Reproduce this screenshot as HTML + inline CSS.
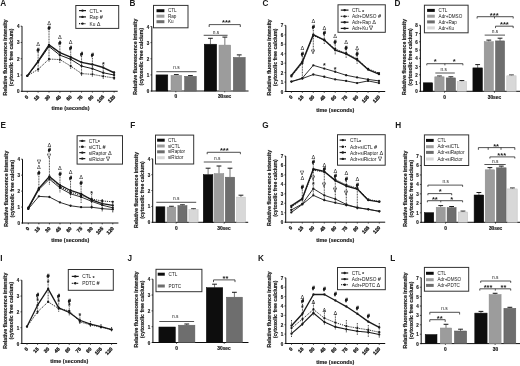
<!DOCTYPE html>
<html><head><meta charset="utf-8"><title>Figure</title>
<style>
html,body{margin:0;padding:0;background:#fff;}
svg{display:block;}
text{font-family:'Liberation Sans', Arial, sans-serif;}
</style></head><body>
<svg width="520" height="366" viewBox="0 0 520 366">
<defs><filter id="soft" x="0" y="0" width="100%" height="100%"><feGaussianBlur stdDeviation="0.45"/></filter></defs>
<rect width="520" height="366" fill="#fff"/>
<g filter="url(#soft)">
<text x="0.2" y="5.9" font-size="8.2" font-weight="bold" text-anchor="start" fill="#1a1a1a">A</text>
<text x="7.4" y="57.4" font-size="5.2" font-weight="bold" text-anchor="middle" fill="#1a1a1a" transform="rotate(-90 7.4 57.4)" stroke="#1a1a1a" stroke-width="0.18">Relative fluorescence intensity</text>
<text x="13.4" y="57.4" font-size="5.2" font-weight="bold" text-anchor="middle" fill="#1a1a1a" transform="rotate(-90 13.4 57.4)" stroke="#1a1a1a" stroke-width="0.18">(cytosolic free calcium)</text>
<line x1="22" y1="26.2" x2="22" y2="91.8" stroke="#111" stroke-width="1"/>
<line x1="20.7" y1="91.3" x2="22" y2="91.3" stroke="#1a1a1a" stroke-width="0.8"/>
<text x="18.2" y="93.3" font-size="4.5" font-weight="bold" text-anchor="middle" fill="#1a1a1a" stroke="#1a1a1a" stroke-width="0.15">0</text>
<line x1="20.7" y1="75.03" x2="22" y2="75.03" stroke="#1a1a1a" stroke-width="0.8"/>
<text x="18.2" y="77.03" font-size="4.5" font-weight="bold" text-anchor="middle" fill="#1a1a1a" stroke="#1a1a1a" stroke-width="0.15">1</text>
<line x1="20.7" y1="58.75" x2="22" y2="58.75" stroke="#1a1a1a" stroke-width="0.8"/>
<text x="18.2" y="60.75" font-size="4.5" font-weight="bold" text-anchor="middle" fill="#1a1a1a" stroke="#1a1a1a" stroke-width="0.15">2</text>
<line x1="20.7" y1="42.48" x2="22" y2="42.48" stroke="#1a1a1a" stroke-width="0.8"/>
<text x="18.2" y="44.48" font-size="4.5" font-weight="bold" text-anchor="middle" fill="#1a1a1a" stroke="#1a1a1a" stroke-width="0.15">3</text>
<line x1="20.7" y1="26.2" x2="22" y2="26.2" stroke="#1a1a1a" stroke-width="0.8"/>
<text x="18.2" y="28.2" font-size="4.5" font-weight="bold" text-anchor="middle" fill="#1a1a1a" stroke="#1a1a1a" stroke-width="0.15">4</text>
<line x1="21.5" y1="91.3" x2="117.7" y2="91.3" stroke="#111" stroke-width="1"/>
<line x1="27.3" y1="91.3" x2="27.3" y2="92.6" stroke="#1a1a1a" stroke-width="0.8"/>
<text x="28.8" y="97.2" font-size="4.9" font-weight="bold" text-anchor="end" fill="#1a1a1a" transform="rotate(-45 28.8 97.2)" stroke="#1a1a1a" stroke-width="0.3">0</text>
<line x1="38.15" y1="91.3" x2="38.15" y2="92.6" stroke="#1a1a1a" stroke-width="0.8"/>
<text x="39.65" y="97.2" font-size="4.9" font-weight="bold" text-anchor="end" fill="#1a1a1a" transform="rotate(-45 39.65 97.2)" stroke="#1a1a1a" stroke-width="0.3">15</text>
<line x1="49" y1="91.3" x2="49" y2="92.6" stroke="#1a1a1a" stroke-width="0.8"/>
<text x="50.5" y="97.2" font-size="4.9" font-weight="bold" text-anchor="end" fill="#1a1a1a" transform="rotate(-45 50.5 97.2)" stroke="#1a1a1a" stroke-width="0.3">30</text>
<line x1="59.85" y1="91.3" x2="59.85" y2="92.6" stroke="#1a1a1a" stroke-width="0.8"/>
<text x="61.35" y="97.2" font-size="4.9" font-weight="bold" text-anchor="end" fill="#1a1a1a" transform="rotate(-45 61.35 97.2)" stroke="#1a1a1a" stroke-width="0.3">45</text>
<line x1="70.7" y1="91.3" x2="70.7" y2="92.6" stroke="#1a1a1a" stroke-width="0.8"/>
<text x="72.2" y="97.2" font-size="4.9" font-weight="bold" text-anchor="end" fill="#1a1a1a" transform="rotate(-45 72.2 97.2)" stroke="#1a1a1a" stroke-width="0.3">60</text>
<line x1="81.55" y1="91.3" x2="81.55" y2="92.6" stroke="#1a1a1a" stroke-width="0.8"/>
<text x="83.05" y="97.2" font-size="4.9" font-weight="bold" text-anchor="end" fill="#1a1a1a" transform="rotate(-45 83.05 97.2)" stroke="#1a1a1a" stroke-width="0.3">75</text>
<line x1="92.4" y1="91.3" x2="92.4" y2="92.6" stroke="#1a1a1a" stroke-width="0.8"/>
<text x="93.9" y="97.2" font-size="4.9" font-weight="bold" text-anchor="end" fill="#1a1a1a" transform="rotate(-45 93.9 97.2)" stroke="#1a1a1a" stroke-width="0.3">90</text>
<line x1="103.25" y1="91.3" x2="103.25" y2="92.6" stroke="#1a1a1a" stroke-width="0.8"/>
<text x="104.75" y="97.2" font-size="4.9" font-weight="bold" text-anchor="end" fill="#1a1a1a" transform="rotate(-45 104.75 97.2)" stroke="#1a1a1a" stroke-width="0.3">105</text>
<line x1="114.1" y1="91.3" x2="114.1" y2="92.6" stroke="#1a1a1a" stroke-width="0.8"/>
<text x="115.6" y="97.2" font-size="4.9" font-weight="bold" text-anchor="end" fill="#1a1a1a" transform="rotate(-45 115.6 97.2)" stroke="#1a1a1a" stroke-width="0.3">120</text>
<text x="70.6" y="110.4" font-size="5.4" font-weight="bold" text-anchor="middle" fill="#1a1a1a" stroke="#1a1a1a" stroke-width="0.15">time (seconds)</text>
<rect x="75.8" y="5.5" width="42.9" height="22.9" fill="#fff" stroke="#333" stroke-width="1"/>
<line x1="79" y1="10.6" x2="86" y2="10.6" stroke="#1a1a1a" stroke-width="1.2"/>
<circle cx="82.5" cy="10.6" r="1.2" fill="#1a1a1a"/>
<text x="89.6" y="12.6" font-size="4.8" font-weight="normal" text-anchor="start" fill="#1a1a1a">CTL <tspan font-weight="bold" font-size="5.6" dy="1.4">*</tspan></text>
<line x1="79" y1="16.9" x2="86" y2="16.9" stroke="#1a1a1a" stroke-width="1.2"/>
<circle cx="82.5" cy="16.9" r="1.2" fill="#1a1a1a"/>
<text x="89.6" y="18.9" font-size="4.8" font-weight="normal" text-anchor="start" fill="#1a1a1a">Rap <tspan font-weight="bold" font-size="5.6">#</tspan></text>
<line x1="79" y1="23.6" x2="86" y2="23.6" stroke="#1a1a1a" stroke-width="1.2" stroke-dasharray="1,0.8"/>
<circle cx="82.5" cy="23.6" r="1.2" fill="#1a1a1a"/>
<text x="89.6" y="25.6" font-size="4.8" font-weight="normal" text-anchor="start" fill="#1a1a1a">Ku <tspan font-size="5.6">Δ</tspan></text>
<line x1="38.15" y1="52" x2="38.15" y2="72" stroke="#333" stroke-width="0.9" stroke-dasharray="1,0.6"/>
<line x1="49" y1="31" x2="49" y2="62" stroke="#333" stroke-width="0.9" stroke-dasharray="1,0.6"/>
<line x1="59.85" y1="46" x2="59.85" y2="63" stroke="#333" stroke-width="0.9" stroke-dasharray="1,0.6"/>
<line x1="70.7" y1="49" x2="70.7" y2="69" stroke="#333" stroke-width="0.9" stroke-dasharray="1,0.6"/>
<line x1="81.55" y1="56" x2="81.55" y2="76" stroke="#333" stroke-width="0.9" stroke-dasharray="1,0.6"/>
<line x1="92.4" y1="58" x2="92.4" y2="77" stroke="#333" stroke-width="0.9" stroke-dasharray="1,0.6"/>
<line x1="103.25" y1="65" x2="103.25" y2="79" stroke="#333" stroke-width="0.9" stroke-dasharray="1,0.6"/>
<line x1="114.1" y1="71" x2="114.1" y2="80" stroke="#333" stroke-width="0.9" stroke-dasharray="1,0.6"/>
<polyline points="27.3,75.84 38.15,61.19 49,44.92 59.85,52.57 70.7,57.12 81.55,62.33 92.4,64.45 103.25,67.54 114.1,72.75" fill="none" stroke="#1a1a1a" stroke-width="1.4" stroke-linejoin="round"/>
<circle cx="27.3" cy="75.84" r="1.15" fill="#1a1a1a"/>
<circle cx="38.15" cy="61.19" r="1.15" fill="#1a1a1a"/>
<circle cx="49" cy="44.92" r="1.15" fill="#1a1a1a"/>
<circle cx="59.85" cy="52.57" r="1.15" fill="#1a1a1a"/>
<circle cx="70.7" cy="57.12" r="1.15" fill="#1a1a1a"/>
<circle cx="81.55" cy="62.33" r="1.15" fill="#1a1a1a"/>
<circle cx="92.4" cy="64.45" r="1.15" fill="#1a1a1a"/>
<circle cx="103.25" cy="67.54" r="1.15" fill="#1a1a1a"/>
<circle cx="114.1" cy="72.75" r="1.15" fill="#1a1a1a"/>
<polyline points="27.3,75.84 38.15,62 49,46.54 59.85,55.17 70.7,59.24 81.55,66.07 92.4,68.68 103.25,72.75 114.1,75.03" fill="none" stroke="#1a1a1a" stroke-width="1" stroke-linejoin="round"/>
<circle cx="27.3" cy="75.84" r="1.15" fill="#1a1a1a"/>
<circle cx="38.15" cy="62" r="1.15" fill="#1a1a1a"/>
<circle cx="49" cy="46.54" r="1.15" fill="#1a1a1a"/>
<circle cx="59.85" cy="55.17" r="1.15" fill="#1a1a1a"/>
<circle cx="70.7" cy="59.24" r="1.15" fill="#1a1a1a"/>
<circle cx="81.55" cy="66.07" r="1.15" fill="#1a1a1a"/>
<circle cx="92.4" cy="68.68" r="1.15" fill="#1a1a1a"/>
<circle cx="103.25" cy="72.75" r="1.15" fill="#1a1a1a"/>
<circle cx="114.1" cy="75.03" r="1.15" fill="#1a1a1a"/>
<polyline points="27.3,75.84 38.15,69.33 49,59.08 59.85,59.56 70.7,66.07 81.55,73.56 92.4,74.37 103.25,76.33 114.1,77.95" fill="none" stroke="#1a1a1a" stroke-width="0.9" stroke-linejoin="round" stroke-dasharray="1.2,1"/>
<circle cx="27.3" cy="75.84" r="1.15" fill="#1a1a1a"/>
<circle cx="38.15" cy="69.33" r="1.15" fill="#1a1a1a"/>
<circle cx="49" cy="59.08" r="1.15" fill="#1a1a1a"/>
<circle cx="59.85" cy="59.56" r="1.15" fill="#1a1a1a"/>
<circle cx="70.7" cy="66.07" r="1.15" fill="#1a1a1a"/>
<circle cx="81.55" cy="73.56" r="1.15" fill="#1a1a1a"/>
<circle cx="92.4" cy="74.37" r="1.15" fill="#1a1a1a"/>
<circle cx="103.25" cy="76.33" r="1.15" fill="#1a1a1a"/>
<circle cx="114.1" cy="77.95" r="1.15" fill="#1a1a1a"/>
<text x="38.15" y="45.6" font-size="5.6" font-weight="normal" text-anchor="middle" fill="#1a1a1a">Δ</text>
<text x="38.15" y="51.5" font-size="4.8" font-weight="bold" text-anchor="middle" fill="#1a1a1a" stroke="#1a1a1a" stroke-width="0.35">#</text>
<text x="49" y="24.5" font-size="5.6" font-weight="normal" text-anchor="middle" fill="#1a1a1a">Δ</text>
<text x="49" y="30" font-size="4.8" font-weight="bold" text-anchor="middle" fill="#1a1a1a" stroke="#1a1a1a" stroke-width="0.35">#</text>
<text x="59.85" y="38.8" font-size="5.6" font-weight="normal" text-anchor="middle" fill="#1a1a1a">Δ</text>
<text x="59.85" y="45" font-size="4.8" font-weight="bold" text-anchor="middle" fill="#1a1a1a" stroke="#1a1a1a" stroke-width="0.35">#</text>
<text x="70.7" y="43.5" font-size="5.6" font-weight="normal" text-anchor="middle" fill="#1a1a1a">Δ</text>
<text x="70.7" y="49.5" font-size="4.8" font-weight="bold" text-anchor="middle" fill="#1a1a1a" stroke="#1a1a1a" stroke-width="0.35">#</text>
<text x="81.55" y="55.8" font-size="4.8" font-weight="bold" text-anchor="middle" fill="#1a1a1a" stroke="#1a1a1a" stroke-width="0.35">#</text>
<text x="92.4" y="57.3" font-size="4.8" font-weight="bold" text-anchor="middle" fill="#1a1a1a" stroke="#1a1a1a" stroke-width="0.35">#</text>
<text x="103.25" y="66.8" font-size="7" font-weight="bold" text-anchor="middle" fill="#1a1a1a">*</text>
<text x="262.4" y="5.9" font-size="8.2" font-weight="bold" text-anchor="start" fill="#1a1a1a">C</text>
<text x="271.2" y="57.35" font-size="5.2" font-weight="bold" text-anchor="middle" fill="#1a1a1a" transform="rotate(-90 271.2 57.35)" stroke="#1a1a1a" stroke-width="0.18">Relative fluorescence intensity</text>
<text x="277.2" y="57.35" font-size="5.2" font-weight="bold" text-anchor="middle" fill="#1a1a1a" transform="rotate(-90 277.2 57.35)" stroke="#1a1a1a" stroke-width="0.18">(cytosolic free calcium)</text>
<line x1="285.8" y1="25.4" x2="285.8" y2="92" stroke="#111" stroke-width="1"/>
<line x1="284.5" y1="91.5" x2="285.8" y2="91.5" stroke="#1a1a1a" stroke-width="0.8"/>
<text x="282" y="93.5" font-size="4.5" font-weight="bold" text-anchor="middle" fill="#1a1a1a" stroke="#1a1a1a" stroke-width="0.15">0</text>
<line x1="284.5" y1="82.06" x2="285.8" y2="82.06" stroke="#1a1a1a" stroke-width="0.8"/>
<text x="282" y="84.06" font-size="4.5" font-weight="bold" text-anchor="middle" fill="#1a1a1a" stroke="#1a1a1a" stroke-width="0.15">1</text>
<line x1="284.5" y1="72.61" x2="285.8" y2="72.61" stroke="#1a1a1a" stroke-width="0.8"/>
<text x="282" y="74.61" font-size="4.5" font-weight="bold" text-anchor="middle" fill="#1a1a1a" stroke="#1a1a1a" stroke-width="0.15">2</text>
<line x1="284.5" y1="63.17" x2="285.8" y2="63.17" stroke="#1a1a1a" stroke-width="0.8"/>
<text x="282" y="65.17" font-size="4.5" font-weight="bold" text-anchor="middle" fill="#1a1a1a" stroke="#1a1a1a" stroke-width="0.15">3</text>
<line x1="284.5" y1="53.73" x2="285.8" y2="53.73" stroke="#1a1a1a" stroke-width="0.8"/>
<text x="282" y="55.73" font-size="4.5" font-weight="bold" text-anchor="middle" fill="#1a1a1a" stroke="#1a1a1a" stroke-width="0.15">4</text>
<line x1="284.5" y1="44.29" x2="285.8" y2="44.29" stroke="#1a1a1a" stroke-width="0.8"/>
<text x="282" y="46.29" font-size="4.5" font-weight="bold" text-anchor="middle" fill="#1a1a1a" stroke="#1a1a1a" stroke-width="0.15">5</text>
<line x1="284.5" y1="34.84" x2="285.8" y2="34.84" stroke="#1a1a1a" stroke-width="0.8"/>
<text x="282" y="36.84" font-size="4.5" font-weight="bold" text-anchor="middle" fill="#1a1a1a" stroke="#1a1a1a" stroke-width="0.15">6</text>
<line x1="284.5" y1="25.4" x2="285.8" y2="25.4" stroke="#1a1a1a" stroke-width="0.8"/>
<text x="282" y="27.4" font-size="4.5" font-weight="bold" text-anchor="middle" fill="#1a1a1a" stroke="#1a1a1a" stroke-width="0.15">7</text>
<line x1="285.3" y1="91.5" x2="385.2" y2="91.5" stroke="#111" stroke-width="1"/>
<line x1="291.4" y1="91.5" x2="291.4" y2="92.8" stroke="#1a1a1a" stroke-width="0.8"/>
<text x="292.9" y="97.4" font-size="4.9" font-weight="bold" text-anchor="end" fill="#1a1a1a" transform="rotate(-45 292.9 97.4)" stroke="#1a1a1a" stroke-width="0.3">0</text>
<line x1="302.35" y1="91.5" x2="302.35" y2="92.8" stroke="#1a1a1a" stroke-width="0.8"/>
<text x="303.85" y="97.4" font-size="4.9" font-weight="bold" text-anchor="end" fill="#1a1a1a" transform="rotate(-45 303.85 97.4)" stroke="#1a1a1a" stroke-width="0.3">15</text>
<line x1="313.3" y1="91.5" x2="313.3" y2="92.8" stroke="#1a1a1a" stroke-width="0.8"/>
<text x="314.8" y="97.4" font-size="4.9" font-weight="bold" text-anchor="end" fill="#1a1a1a" transform="rotate(-45 314.8 97.4)" stroke="#1a1a1a" stroke-width="0.3">30</text>
<line x1="324.25" y1="91.5" x2="324.25" y2="92.8" stroke="#1a1a1a" stroke-width="0.8"/>
<text x="325.75" y="97.4" font-size="4.9" font-weight="bold" text-anchor="end" fill="#1a1a1a" transform="rotate(-45 325.75 97.4)" stroke="#1a1a1a" stroke-width="0.3">45</text>
<line x1="335.2" y1="91.5" x2="335.2" y2="92.8" stroke="#1a1a1a" stroke-width="0.8"/>
<text x="336.7" y="97.4" font-size="4.9" font-weight="bold" text-anchor="end" fill="#1a1a1a" transform="rotate(-45 336.7 97.4)" stroke="#1a1a1a" stroke-width="0.3">60</text>
<line x1="346.15" y1="91.5" x2="346.15" y2="92.8" stroke="#1a1a1a" stroke-width="0.8"/>
<text x="347.65" y="97.4" font-size="4.9" font-weight="bold" text-anchor="end" fill="#1a1a1a" transform="rotate(-45 347.65 97.4)" stroke="#1a1a1a" stroke-width="0.3">75</text>
<line x1="357.1" y1="91.5" x2="357.1" y2="92.8" stroke="#1a1a1a" stroke-width="0.8"/>
<text x="358.6" y="97.4" font-size="4.9" font-weight="bold" text-anchor="end" fill="#1a1a1a" transform="rotate(-45 358.6 97.4)" stroke="#1a1a1a" stroke-width="0.3">90</text>
<line x1="368.05" y1="91.5" x2="368.05" y2="92.8" stroke="#1a1a1a" stroke-width="0.8"/>
<text x="369.55" y="97.4" font-size="4.9" font-weight="bold" text-anchor="end" fill="#1a1a1a" transform="rotate(-45 369.55 97.4)" stroke="#1a1a1a" stroke-width="0.3">105</text>
<line x1="379" y1="91.5" x2="379" y2="92.8" stroke="#1a1a1a" stroke-width="0.8"/>
<text x="380.5" y="97.4" font-size="4.9" font-weight="bold" text-anchor="end" fill="#1a1a1a" transform="rotate(-45 380.5 97.4)" stroke="#1a1a1a" stroke-width="0.3">120</text>
<text x="335.3" y="111.5" font-size="5.4" font-weight="bold" text-anchor="middle" fill="#1a1a1a" stroke="#1a1a1a" stroke-width="0.15">time (seconds)</text>
<rect x="338" y="4.8" width="47.3" height="27.5" fill="#fff" stroke="#333" stroke-width="1"/>
<line x1="340.8" y1="10.1" x2="348.5" y2="10.1" stroke="#1a1a1a" stroke-width="1.2"/>
<circle cx="344.65" cy="10.1" r="1.2" fill="#1a1a1a"/>
<text x="351.9" y="12.1" font-size="4.8" font-weight="normal" text-anchor="start" fill="#1a1a1a">CTL <tspan font-weight="bold" font-size="5.6" dy="1.4">*</tspan></text>
<line x1="340.8" y1="16.4" x2="348.5" y2="16.4" stroke="#1a1a1a" stroke-width="1.2" stroke-dasharray="1,0.8"/>
<circle cx="344.65" cy="16.4" r="1.2" fill="#1a1a1a"/>
<text x="351.9" y="18.4" font-size="4.8" font-weight="normal" text-anchor="start" fill="#1a1a1a">Adr+DMSO <tspan font-weight="bold" font-size="5.6">#</tspan></text>
<line x1="340.8" y1="22.2" x2="348.5" y2="22.2" stroke="#1a1a1a" stroke-width="1.2"/>
<circle cx="344.65" cy="22.2" r="1.2" fill="#1a1a1a"/>
<text x="351.9" y="24.2" font-size="4.8" font-weight="normal" text-anchor="start" fill="#1a1a1a">Adr+Rap <tspan font-size="5.6">Δ</tspan></text>
<line x1="340.8" y1="28.4" x2="348.5" y2="28.4" stroke="#1a1a1a" stroke-width="1.2"/>
<circle cx="344.65" cy="28.4" r="1.2" fill="#1a1a1a"/>
<text x="351.9" y="30.4" font-size="4.8" font-weight="normal" text-anchor="start" fill="#1a1a1a">Adr+Ku <tspan font-size="5.6">∇</tspan></text>
<line x1="302.35" y1="56" x2="302.35" y2="80" stroke="#333" stroke-width="0.9" stroke-dasharray="1,0.6"/>
<line x1="313.3" y1="30" x2="313.3" y2="52" stroke="#333" stroke-width="0.9" stroke-dasharray="1,0.6"/>
<line x1="324.25" y1="35" x2="324.25" y2="44" stroke="#333" stroke-width="0.9" stroke-dasharray="1,0.6"/>
<line x1="335.2" y1="42" x2="335.2" y2="55" stroke="#333" stroke-width="0.9" stroke-dasharray="1,0.6"/>
<line x1="346.15" y1="46" x2="346.15" y2="58" stroke="#333" stroke-width="0.9" stroke-dasharray="1,0.6"/>
<line x1="357.1" y1="50" x2="357.1" y2="64" stroke="#333" stroke-width="0.9" stroke-dasharray="1,0.6"/>
<polyline points="291.4,75.45 302.35,61.76 313.3,34.56 324.25,40.04 335.2,50.05 346.15,53.82 357.1,59.77 368.05,69.59 379,74.13" fill="none" stroke="#1a1a1a" stroke-width="1.4" stroke-linejoin="round"/>
<circle cx="291.4" cy="75.45" r="1.15" fill="#1a1a1a"/>
<circle cx="302.35" cy="61.76" r="1.15" fill="#1a1a1a"/>
<circle cx="313.3" cy="34.56" r="1.15" fill="#1a1a1a"/>
<circle cx="324.25" cy="40.04" r="1.15" fill="#1a1a1a"/>
<circle cx="335.2" cy="50.05" r="1.15" fill="#1a1a1a"/>
<circle cx="346.15" cy="53.82" r="1.15" fill="#1a1a1a"/>
<circle cx="357.1" cy="59.77" r="1.15" fill="#1a1a1a"/>
<circle cx="368.05" cy="69.59" r="1.15" fill="#1a1a1a"/>
<circle cx="379" cy="74.13" r="1.15" fill="#1a1a1a"/>
<polyline points="291.4,76.39 302.35,63.17 313.3,35.79 324.25,39.56 335.2,49.01 346.15,53.26 357.1,58.92 368.05,68.84 379,73.09" fill="none" stroke="#1a1a1a" stroke-width="0.9" stroke-linejoin="round" stroke-dasharray="1.2,1"/>
<circle cx="291.4" cy="76.39" r="1.15" fill="#1a1a1a"/>
<circle cx="302.35" cy="63.17" r="1.15" fill="#1a1a1a"/>
<circle cx="313.3" cy="35.79" r="1.15" fill="#1a1a1a"/>
<circle cx="324.25" cy="39.56" r="1.15" fill="#1a1a1a"/>
<circle cx="335.2" cy="49.01" r="1.15" fill="#1a1a1a"/>
<circle cx="346.15" cy="53.26" r="1.15" fill="#1a1a1a"/>
<circle cx="357.1" cy="58.92" r="1.15" fill="#1a1a1a"/>
<circle cx="368.05" cy="68.84" r="1.15" fill="#1a1a1a"/>
<circle cx="379" cy="73.09" r="1.15" fill="#1a1a1a"/>
<polyline points="291.4,81.59 302.35,78.09 313.3,65.34 324.25,68.55 335.2,71.76 346.15,75.26 357.1,77.43 368.05,79.41 379,80.92" fill="none" stroke="#1a1a1a" stroke-width="0.9" stroke-linejoin="round"/>
<circle cx="291.4" cy="81.59" r="1.15" fill="#1a1a1a"/>
<circle cx="302.35" cy="78.09" r="1.15" fill="#1a1a1a"/>
<circle cx="313.3" cy="65.34" r="1.15" fill="#1a1a1a"/>
<circle cx="324.25" cy="68.55" r="1.15" fill="#1a1a1a"/>
<circle cx="335.2" cy="71.76" r="1.15" fill="#1a1a1a"/>
<circle cx="346.15" cy="75.26" r="1.15" fill="#1a1a1a"/>
<circle cx="357.1" cy="77.43" r="1.15" fill="#1a1a1a"/>
<circle cx="368.05" cy="79.41" r="1.15" fill="#1a1a1a"/>
<circle cx="379" cy="80.92" r="1.15" fill="#1a1a1a"/>
<polyline points="291.4,81.59 302.35,78.56 313.3,74.5 324.25,76.77 335.2,79.41 346.15,80.92 357.1,83.1 368.05,80.92 379,83.1" fill="none" stroke="#1a1a1a" stroke-width="0.9" stroke-linejoin="round"/>
<circle cx="291.4" cy="81.59" r="1.15" fill="#1a1a1a"/>
<circle cx="302.35" cy="78.56" r="1.15" fill="#1a1a1a"/>
<circle cx="313.3" cy="74.5" r="1.15" fill="#1a1a1a"/>
<circle cx="324.25" cy="76.77" r="1.15" fill="#1a1a1a"/>
<circle cx="335.2" cy="79.41" r="1.15" fill="#1a1a1a"/>
<circle cx="346.15" cy="80.92" r="1.15" fill="#1a1a1a"/>
<circle cx="357.1" cy="83.1" r="1.15" fill="#1a1a1a"/>
<circle cx="368.05" cy="80.92" r="1.15" fill="#1a1a1a"/>
<circle cx="379" cy="83.1" r="1.15" fill="#1a1a1a"/>
<text x="302.35" y="49.8" font-size="5.6" font-weight="normal" text-anchor="middle" fill="#1a1a1a">Δ</text>
<text x="302.35" y="56.1" font-size="4.8" font-weight="bold" text-anchor="middle" fill="#1a1a1a" stroke="#1a1a1a" stroke-width="0.35">#</text>
<text x="313.3" y="22.7" font-size="5.6" font-weight="normal" text-anchor="middle" fill="#1a1a1a">Δ</text>
<text x="313.3" y="29.1" font-size="4.8" font-weight="bold" text-anchor="middle" fill="#1a1a1a" stroke="#1a1a1a" stroke-width="0.35">#</text>
<text x="313.3" y="53.9" font-size="5.6" font-weight="normal" text-anchor="middle" fill="#1a1a1a">∇</text>
<text x="324.25" y="29.6" font-size="5.6" font-weight="normal" text-anchor="middle" fill="#1a1a1a">Δ</text>
<text x="324.25" y="34.8" font-size="4.8" font-weight="bold" text-anchor="middle" fill="#1a1a1a" stroke="#1a1a1a" stroke-width="0.35">#</text>
<text x="335.2" y="38.2" font-size="5.6" font-weight="normal" text-anchor="middle" fill="#1a1a1a">Δ</text>
<text x="335.2" y="43.6" font-size="4.8" font-weight="bold" text-anchor="middle" fill="#1a1a1a" stroke="#1a1a1a" stroke-width="0.35">#</text>
<text x="346.15" y="44" font-size="5.6" font-weight="normal" text-anchor="middle" fill="#1a1a1a">Δ</text>
<text x="346.15" y="50" font-size="4.8" font-weight="bold" text-anchor="middle" fill="#1a1a1a" stroke="#1a1a1a" stroke-width="0.35">#</text>
<text x="357.1" y="49.5" font-size="5.6" font-weight="normal" text-anchor="middle" fill="#1a1a1a">Δ</text>
<text x="357.1" y="55.5" font-size="4.8" font-weight="bold" text-anchor="middle" fill="#1a1a1a" stroke="#1a1a1a" stroke-width="0.35">#</text>
<text x="324.25" y="67.6" font-size="7" font-weight="bold" text-anchor="middle" fill="#1a1a1a">*</text>
<text x="335.2" y="72" font-size="7" font-weight="bold" text-anchor="middle" fill="#1a1a1a">*</text>
<text x="0.4" y="128.3" font-size="8.2" font-weight="bold" text-anchor="start" fill="#1a1a1a">E</text>
<text x="7.9" y="188.7" font-size="5.2" font-weight="bold" text-anchor="middle" fill="#1a1a1a" transform="rotate(-90 7.9 188.7)" stroke="#1a1a1a" stroke-width="0.18">Relative fluorescence intensity</text>
<text x="13.9" y="188.7" font-size="5.2" font-weight="bold" text-anchor="middle" fill="#1a1a1a" transform="rotate(-90 13.9 188.7)" stroke="#1a1a1a" stroke-width="0.18">(cytosolic free calcium)</text>
<line x1="22.5" y1="159.2" x2="22.5" y2="223.5" stroke="#111" stroke-width="1"/>
<line x1="21.2" y1="223" x2="22.5" y2="223" stroke="#1a1a1a" stroke-width="0.8"/>
<text x="18.7" y="225" font-size="4.5" font-weight="bold" text-anchor="middle" fill="#1a1a1a" stroke="#1a1a1a" stroke-width="0.15">0</text>
<line x1="21.2" y1="207.05" x2="22.5" y2="207.05" stroke="#1a1a1a" stroke-width="0.8"/>
<text x="18.7" y="209.05" font-size="4.5" font-weight="bold" text-anchor="middle" fill="#1a1a1a" stroke="#1a1a1a" stroke-width="0.15">1</text>
<line x1="21.2" y1="191.1" x2="22.5" y2="191.1" stroke="#1a1a1a" stroke-width="0.8"/>
<text x="18.7" y="193.1" font-size="4.5" font-weight="bold" text-anchor="middle" fill="#1a1a1a" stroke="#1a1a1a" stroke-width="0.15">2</text>
<line x1="21.2" y1="175.15" x2="22.5" y2="175.15" stroke="#1a1a1a" stroke-width="0.8"/>
<text x="18.7" y="177.15" font-size="4.5" font-weight="bold" text-anchor="middle" fill="#1a1a1a" stroke="#1a1a1a" stroke-width="0.15">3</text>
<line x1="21.2" y1="159.2" x2="22.5" y2="159.2" stroke="#1a1a1a" stroke-width="0.8"/>
<text x="18.7" y="161.2" font-size="4.5" font-weight="bold" text-anchor="middle" fill="#1a1a1a" stroke="#1a1a1a" stroke-width="0.15">4</text>
<line x1="22" y1="223" x2="118.4" y2="223" stroke="#111" stroke-width="1"/>
<line x1="28.3" y1="223" x2="28.3" y2="224.3" stroke="#1a1a1a" stroke-width="0.8"/>
<text x="29.8" y="228.9" font-size="4.9" font-weight="bold" text-anchor="end" fill="#1a1a1a" transform="rotate(-45 29.8 228.9)" stroke="#1a1a1a" stroke-width="0.3">0</text>
<line x1="38.86" y1="223" x2="38.86" y2="224.3" stroke="#1a1a1a" stroke-width="0.8"/>
<text x="40.36" y="228.9" font-size="4.9" font-weight="bold" text-anchor="end" fill="#1a1a1a" transform="rotate(-45 40.36 228.9)" stroke="#1a1a1a" stroke-width="0.3">15</text>
<line x1="49.42" y1="223" x2="49.42" y2="224.3" stroke="#1a1a1a" stroke-width="0.8"/>
<text x="50.92" y="228.9" font-size="4.9" font-weight="bold" text-anchor="end" fill="#1a1a1a" transform="rotate(-45 50.92 228.9)" stroke="#1a1a1a" stroke-width="0.3">30</text>
<line x1="59.98" y1="223" x2="59.98" y2="224.3" stroke="#1a1a1a" stroke-width="0.8"/>
<text x="61.48" y="228.9" font-size="4.9" font-weight="bold" text-anchor="end" fill="#1a1a1a" transform="rotate(-45 61.48 228.9)" stroke="#1a1a1a" stroke-width="0.3">45</text>
<line x1="70.54" y1="223" x2="70.54" y2="224.3" stroke="#1a1a1a" stroke-width="0.8"/>
<text x="72.04" y="228.9" font-size="4.9" font-weight="bold" text-anchor="end" fill="#1a1a1a" transform="rotate(-45 72.04 228.9)" stroke="#1a1a1a" stroke-width="0.3">60</text>
<line x1="81.1" y1="223" x2="81.1" y2="224.3" stroke="#1a1a1a" stroke-width="0.8"/>
<text x="82.6" y="228.9" font-size="4.9" font-weight="bold" text-anchor="end" fill="#1a1a1a" transform="rotate(-45 82.6 228.9)" stroke="#1a1a1a" stroke-width="0.3">75</text>
<line x1="91.66" y1="223" x2="91.66" y2="224.3" stroke="#1a1a1a" stroke-width="0.8"/>
<text x="93.16" y="228.9" font-size="4.9" font-weight="bold" text-anchor="end" fill="#1a1a1a" transform="rotate(-45 93.16 228.9)" stroke="#1a1a1a" stroke-width="0.3">90</text>
<line x1="102.22" y1="223" x2="102.22" y2="224.3" stroke="#1a1a1a" stroke-width="0.8"/>
<text x="103.72" y="228.9" font-size="4.9" font-weight="bold" text-anchor="end" fill="#1a1a1a" transform="rotate(-45 103.72 228.9)" stroke="#1a1a1a" stroke-width="0.3">105</text>
<line x1="112.78" y1="223" x2="112.78" y2="224.3" stroke="#1a1a1a" stroke-width="0.8"/>
<text x="114.28" y="228.9" font-size="4.9" font-weight="bold" text-anchor="end" fill="#1a1a1a" transform="rotate(-45 114.28 228.9)" stroke="#1a1a1a" stroke-width="0.3">120</text>
<text x="70.3" y="242.2" font-size="5.4" font-weight="bold" text-anchor="middle" fill="#1a1a1a" stroke="#1a1a1a" stroke-width="0.15">time (seconds)</text>
<rect x="77.1" y="135.7" width="45.4" height="28.4" fill="#fff" stroke="#333" stroke-width="1"/>
<line x1="79.3" y1="140.9" x2="85.3" y2="140.9" stroke="#1a1a1a" stroke-width="1.2"/>
<circle cx="82.3" cy="140.9" r="1.2" fill="#1a1a1a"/>
<text x="88.8" y="142.9" font-size="4.8" font-weight="normal" text-anchor="start" fill="#1a1a1a">CTL<tspan font-weight="bold" font-size="5.6" dy="1.4">*</tspan></text>
<line x1="79.3" y1="146.8" x2="85.3" y2="146.8" stroke="#1a1a1a" stroke-width="1.2" stroke-dasharray="1,0.8"/>
<circle cx="82.3" cy="146.8" r="1.2" fill="#1a1a1a"/>
<text x="88.8" y="148.8" font-size="4.8" font-weight="normal" text-anchor="start" fill="#1a1a1a">siCTL <tspan font-weight="bold" font-size="5.6">#</tspan></text>
<line x1="79.3" y1="152.6" x2="85.3" y2="152.6" stroke="#1a1a1a" stroke-width="1.2"/>
<circle cx="82.3" cy="152.6" r="1.2" fill="#1a1a1a"/>
<text x="88.8" y="154.6" font-size="4.8" font-weight="normal" text-anchor="start" fill="#1a1a1a">siRaptor <tspan font-size="5.6">Δ</tspan></text>
<line x1="79.3" y1="158.6" x2="85.3" y2="158.6" stroke="#1a1a1a" stroke-width="1.2"/>
<circle cx="82.3" cy="158.6" r="1.2" fill="#1a1a1a"/>
<text x="88.8" y="160.6" font-size="4.8" font-weight="normal" text-anchor="start" fill="#1a1a1a">siRictor <tspan font-size="5.6">∇</tspan></text>
<line x1="38.86" y1="176" x2="38.86" y2="192" stroke="#333" stroke-width="0.9" stroke-dasharray="1,0.6"/>
<line x1="49.42" y1="158" x2="49.42" y2="185" stroke="#333" stroke-width="0.9" stroke-dasharray="1,0.6"/>
<line x1="59.98" y1="177" x2="59.98" y2="193" stroke="#333" stroke-width="0.9" stroke-dasharray="1,0.6"/>
<line x1="70.54" y1="181" x2="70.54" y2="198" stroke="#333" stroke-width="0.9" stroke-dasharray="1,0.6"/>
<line x1="81.1" y1="186" x2="81.1" y2="203" stroke="#333" stroke-width="0.9" stroke-dasharray="1,0.6"/>
<line x1="91.66" y1="194" x2="91.66" y2="209" stroke="#333" stroke-width="0.9" stroke-dasharray="1,0.6"/>
<line x1="102.22" y1="199" x2="102.22" y2="212" stroke="#333" stroke-width="0.9" stroke-dasharray="1,0.6"/>
<line x1="112.78" y1="203" x2="112.78" y2="213" stroke="#333" stroke-width="0.9" stroke-dasharray="1,0.6"/>
<polyline points="28.3,207.53 38.86,188.39 49.42,176.43 59.98,185.2 70.54,190.46 81.1,193.81 91.66,199.87 102.22,203.54 112.78,205.45" fill="none" stroke="#1a1a1a" stroke-width="1.3" stroke-linejoin="round"/>
<circle cx="28.3" cy="207.53" r="1.15" fill="#1a1a1a"/>
<circle cx="38.86" cy="188.39" r="1.15" fill="#1a1a1a"/>
<circle cx="49.42" cy="176.43" r="1.15" fill="#1a1a1a"/>
<circle cx="59.98" cy="185.2" r="1.15" fill="#1a1a1a"/>
<circle cx="70.54" cy="190.46" r="1.15" fill="#1a1a1a"/>
<circle cx="81.1" cy="193.81" r="1.15" fill="#1a1a1a"/>
<circle cx="91.66" cy="199.87" r="1.15" fill="#1a1a1a"/>
<circle cx="102.22" cy="203.54" r="1.15" fill="#1a1a1a"/>
<circle cx="112.78" cy="205.45" r="1.15" fill="#1a1a1a"/>
<polyline points="28.3,208.33 38.86,188.39 49.42,177.54 59.98,186.63 70.54,192.22 81.1,195.41 91.66,199.07 102.22,200.99 112.78,201.79" fill="none" stroke="#1a1a1a" stroke-width="0.9" stroke-linejoin="round" stroke-dasharray="1.2,1"/>
<circle cx="28.3" cy="208.33" r="1.15" fill="#1a1a1a"/>
<circle cx="38.86" cy="188.39" r="1.15" fill="#1a1a1a"/>
<circle cx="49.42" cy="177.54" r="1.15" fill="#1a1a1a"/>
<circle cx="59.98" cy="186.63" r="1.15" fill="#1a1a1a"/>
<circle cx="70.54" cy="192.22" r="1.15" fill="#1a1a1a"/>
<circle cx="81.1" cy="195.41" r="1.15" fill="#1a1a1a"/>
<circle cx="91.66" cy="199.07" r="1.15" fill="#1a1a1a"/>
<circle cx="102.22" cy="200.99" r="1.15" fill="#1a1a1a"/>
<circle cx="112.78" cy="201.79" r="1.15" fill="#1a1a1a"/>
<polyline points="28.3,208.65 38.86,189.5 49.42,179.14 59.98,187.91 70.54,193.81 81.1,197 91.66,201.31 102.22,205.14 112.78,207.85" fill="none" stroke="#1a1a1a" stroke-width="0.9" stroke-linejoin="round"/>
<circle cx="28.3" cy="208.65" r="1.15" fill="#1a1a1a"/>
<circle cx="38.86" cy="189.5" r="1.15" fill="#1a1a1a"/>
<circle cx="49.42" cy="179.14" r="1.15" fill="#1a1a1a"/>
<circle cx="59.98" cy="187.91" r="1.15" fill="#1a1a1a"/>
<circle cx="70.54" cy="193.81" r="1.15" fill="#1a1a1a"/>
<circle cx="81.1" cy="197" r="1.15" fill="#1a1a1a"/>
<circle cx="91.66" cy="201.31" r="1.15" fill="#1a1a1a"/>
<circle cx="102.22" cy="205.14" r="1.15" fill="#1a1a1a"/>
<circle cx="112.78" cy="207.85" r="1.15" fill="#1a1a1a"/>
<polyline points="28.3,208.96 38.86,196.36 49.42,197 59.98,202.42 70.54,205.77 81.1,207.21 91.66,207.21 102.22,208.65 112.78,209.44" fill="none" stroke="#1a1a1a" stroke-width="0.9" stroke-linejoin="round"/>
<circle cx="28.3" cy="208.96" r="1.15" fill="#1a1a1a"/>
<circle cx="38.86" cy="196.36" r="1.15" fill="#1a1a1a"/>
<circle cx="49.42" cy="197" r="1.15" fill="#1a1a1a"/>
<circle cx="59.98" cy="202.42" r="1.15" fill="#1a1a1a"/>
<circle cx="70.54" cy="205.77" r="1.15" fill="#1a1a1a"/>
<circle cx="81.1" cy="207.21" r="1.15" fill="#1a1a1a"/>
<circle cx="91.66" cy="207.21" r="1.15" fill="#1a1a1a"/>
<circle cx="102.22" cy="208.65" r="1.15" fill="#1a1a1a"/>
<circle cx="112.78" cy="209.44" r="1.15" fill="#1a1a1a"/>
<text x="38.86" y="164" font-size="5.6" font-weight="normal" text-anchor="middle" fill="#1a1a1a">∇</text>
<text x="38.86" y="169" font-size="5.6" font-weight="normal" text-anchor="middle" fill="#1a1a1a">Δ</text>
<text x="38.86" y="175.4" font-size="4.8" font-weight="bold" text-anchor="middle" fill="#1a1a1a" stroke="#1a1a1a" stroke-width="0.35">#</text>
<text x="49.42" y="146.7" font-size="5.6" font-weight="normal" text-anchor="middle" fill="#1a1a1a">Δ</text>
<text x="49.42" y="152.1" font-size="4.8" font-weight="bold" text-anchor="middle" fill="#1a1a1a" stroke="#1a1a1a" stroke-width="0.35">#</text>
<text x="49.42" y="157.8" font-size="5.6" font-weight="normal" text-anchor="middle" fill="#1a1a1a">∇</text>
<text x="59.98" y="169.5" font-size="5.6" font-weight="normal" text-anchor="middle" fill="#1a1a1a">Δ</text>
<text x="59.98" y="175.8" font-size="4.8" font-weight="bold" text-anchor="middle" fill="#1a1a1a" stroke="#1a1a1a" stroke-width="0.35">#</text>
<text x="70.54" y="173.8" font-size="5.6" font-weight="normal" text-anchor="middle" fill="#1a1a1a">Δ</text>
<text x="70.54" y="180.2" font-size="4.8" font-weight="bold" text-anchor="middle" fill="#1a1a1a" stroke="#1a1a1a" stroke-width="0.35">#</text>
<text x="81.1" y="179.3" font-size="5.6" font-weight="normal" text-anchor="middle" fill="#1a1a1a">Δ</text>
<text x="81.1" y="184.6" font-size="4.8" font-weight="bold" text-anchor="middle" fill="#1a1a1a" stroke="#1a1a1a" stroke-width="0.35">#</text>
<text x="91.66" y="195.6" font-size="7" font-weight="bold" text-anchor="middle" fill="#1a1a1a">*</text>
<text x="262.3" y="128.4" font-size="8.2" font-weight="bold" text-anchor="start" fill="#1a1a1a">G</text>
<text x="271.1" y="188" font-size="5.2" font-weight="bold" text-anchor="middle" fill="#1a1a1a" transform="rotate(-90 271.1 188)" stroke="#1a1a1a" stroke-width="0.18">Relative fluorescence intensity</text>
<text x="277.1" y="188" font-size="5.2" font-weight="bold" text-anchor="middle" fill="#1a1a1a" transform="rotate(-90 277.1 188)" stroke="#1a1a1a" stroke-width="0.18">(cytosolic free calcium)</text>
<line x1="285.7" y1="156" x2="285.7" y2="222.7" stroke="#111" stroke-width="1"/>
<line x1="284.4" y1="222.2" x2="285.7" y2="222.2" stroke="#1a1a1a" stroke-width="0.8"/>
<text x="281.9" y="224.2" font-size="4.5" font-weight="bold" text-anchor="middle" fill="#1a1a1a" stroke="#1a1a1a" stroke-width="0.15">0</text>
<line x1="284.4" y1="212.74" x2="285.7" y2="212.74" stroke="#1a1a1a" stroke-width="0.8"/>
<text x="281.9" y="214.74" font-size="4.5" font-weight="bold" text-anchor="middle" fill="#1a1a1a" stroke="#1a1a1a" stroke-width="0.15">1</text>
<line x1="284.4" y1="203.29" x2="285.7" y2="203.29" stroke="#1a1a1a" stroke-width="0.8"/>
<text x="281.9" y="205.29" font-size="4.5" font-weight="bold" text-anchor="middle" fill="#1a1a1a" stroke="#1a1a1a" stroke-width="0.15">2</text>
<line x1="284.4" y1="193.83" x2="285.7" y2="193.83" stroke="#1a1a1a" stroke-width="0.8"/>
<text x="281.9" y="195.83" font-size="4.5" font-weight="bold" text-anchor="middle" fill="#1a1a1a" stroke="#1a1a1a" stroke-width="0.15">3</text>
<line x1="284.4" y1="184.37" x2="285.7" y2="184.37" stroke="#1a1a1a" stroke-width="0.8"/>
<text x="281.9" y="186.37" font-size="4.5" font-weight="bold" text-anchor="middle" fill="#1a1a1a" stroke="#1a1a1a" stroke-width="0.15">4</text>
<line x1="284.4" y1="174.91" x2="285.7" y2="174.91" stroke="#1a1a1a" stroke-width="0.8"/>
<text x="281.9" y="176.91" font-size="4.5" font-weight="bold" text-anchor="middle" fill="#1a1a1a" stroke="#1a1a1a" stroke-width="0.15">5</text>
<line x1="284.4" y1="165.46" x2="285.7" y2="165.46" stroke="#1a1a1a" stroke-width="0.8"/>
<text x="281.9" y="167.46" font-size="4.5" font-weight="bold" text-anchor="middle" fill="#1a1a1a" stroke="#1a1a1a" stroke-width="0.15">6</text>
<line x1="284.4" y1="156" x2="285.7" y2="156" stroke="#1a1a1a" stroke-width="0.8"/>
<text x="281.9" y="158" font-size="4.5" font-weight="bold" text-anchor="middle" fill="#1a1a1a" stroke="#1a1a1a" stroke-width="0.15">7</text>
<line x1="285.2" y1="222.2" x2="385.2" y2="222.2" stroke="#111" stroke-width="1"/>
<line x1="291.3" y1="222.2" x2="291.3" y2="223.5" stroke="#1a1a1a" stroke-width="0.8"/>
<text x="292.8" y="228.1" font-size="4.9" font-weight="bold" text-anchor="end" fill="#1a1a1a" transform="rotate(-45 292.8 228.1)" stroke="#1a1a1a" stroke-width="0.3">0</text>
<line x1="302.3" y1="222.2" x2="302.3" y2="223.5" stroke="#1a1a1a" stroke-width="0.8"/>
<text x="303.8" y="228.1" font-size="4.9" font-weight="bold" text-anchor="end" fill="#1a1a1a" transform="rotate(-45 303.8 228.1)" stroke="#1a1a1a" stroke-width="0.3">15</text>
<line x1="313.3" y1="222.2" x2="313.3" y2="223.5" stroke="#1a1a1a" stroke-width="0.8"/>
<text x="314.8" y="228.1" font-size="4.9" font-weight="bold" text-anchor="end" fill="#1a1a1a" transform="rotate(-45 314.8 228.1)" stroke="#1a1a1a" stroke-width="0.3">30</text>
<line x1="324.3" y1="222.2" x2="324.3" y2="223.5" stroke="#1a1a1a" stroke-width="0.8"/>
<text x="325.8" y="228.1" font-size="4.9" font-weight="bold" text-anchor="end" fill="#1a1a1a" transform="rotate(-45 325.8 228.1)" stroke="#1a1a1a" stroke-width="0.3">45</text>
<line x1="335.3" y1="222.2" x2="335.3" y2="223.5" stroke="#1a1a1a" stroke-width="0.8"/>
<text x="336.8" y="228.1" font-size="4.9" font-weight="bold" text-anchor="end" fill="#1a1a1a" transform="rotate(-45 336.8 228.1)" stroke="#1a1a1a" stroke-width="0.3">60</text>
<line x1="346.3" y1="222.2" x2="346.3" y2="223.5" stroke="#1a1a1a" stroke-width="0.8"/>
<text x="347.8" y="228.1" font-size="4.9" font-weight="bold" text-anchor="end" fill="#1a1a1a" transform="rotate(-45 347.8 228.1)" stroke="#1a1a1a" stroke-width="0.3">75</text>
<line x1="357.3" y1="222.2" x2="357.3" y2="223.5" stroke="#1a1a1a" stroke-width="0.8"/>
<text x="358.8" y="228.1" font-size="4.9" font-weight="bold" text-anchor="end" fill="#1a1a1a" transform="rotate(-45 358.8 228.1)" stroke="#1a1a1a" stroke-width="0.3">90</text>
<line x1="368.3" y1="222.2" x2="368.3" y2="223.5" stroke="#1a1a1a" stroke-width="0.8"/>
<text x="369.8" y="228.1" font-size="4.9" font-weight="bold" text-anchor="end" fill="#1a1a1a" transform="rotate(-45 369.8 228.1)" stroke="#1a1a1a" stroke-width="0.3">105</text>
<line x1="379.3" y1="222.2" x2="379.3" y2="223.5" stroke="#1a1a1a" stroke-width="0.8"/>
<text x="380.8" y="228.1" font-size="4.9" font-weight="bold" text-anchor="end" fill="#1a1a1a" transform="rotate(-45 380.8 228.1)" stroke="#1a1a1a" stroke-width="0.3">120</text>
<text x="335.3" y="242.2" font-size="5.4" font-weight="bold" text-anchor="middle" fill="#1a1a1a" stroke="#1a1a1a" stroke-width="0.15">time (seconds)</text>
<rect x="337.5" y="134.7" width="47.7" height="30.5" fill="#fff" stroke="#333" stroke-width="1"/>
<line x1="339.6" y1="140.1" x2="346" y2="140.1" stroke="#1a1a1a" stroke-width="1.2"/>
<circle cx="342.8" cy="140.1" r="1.2" fill="#1a1a1a"/>
<text x="350" y="142.1" font-size="4.8" font-weight="normal" text-anchor="start" fill="#1a1a1a">CTL<tspan font-weight="bold" font-size="5.6" dy="1.4">*</tspan></text>
<line x1="339.6" y1="146.7" x2="346" y2="146.7" stroke="#1a1a1a" stroke-width="1.2" stroke-dasharray="1,0.8"/>
<circle cx="342.8" cy="146.7" r="1.2" fill="#1a1a1a"/>
<text x="350" y="148.7" font-size="4.8" font-weight="normal" text-anchor="start" fill="#1a1a1a">Adr+siCTL <tspan font-weight="bold" font-size="5.6">#</tspan></text>
<line x1="339.6" y1="152.5" x2="346" y2="152.5" stroke="#1a1a1a" stroke-width="1.2"/>
<circle cx="342.8" cy="152.5" r="1.2" fill="#1a1a1a"/>
<text x="350" y="154.5" font-size="4.8" font-weight="normal" text-anchor="start" fill="#1a1a1a">Adr+siRaptor <tspan font-size="5.6">Δ</tspan></text>
<line x1="339.6" y1="158.9" x2="346" y2="158.9" stroke="#1a1a1a" stroke-width="1.2"/>
<circle cx="342.8" cy="158.9" r="1.2" fill="#1a1a1a"/>
<text x="350" y="160.9" font-size="4.8" font-weight="normal" text-anchor="start" fill="#1a1a1a">Adr+siRictor <tspan font-size="5.6">∇</tspan></text>
<line x1="302.3" y1="187" x2="302.3" y2="205" stroke="#333" stroke-width="0.9" stroke-dasharray="1,0.6"/>
<line x1="313.3" y1="164" x2="313.3" y2="196" stroke="#333" stroke-width="0.9" stroke-dasharray="1,0.6"/>
<line x1="324.3" y1="171" x2="324.3" y2="200" stroke="#333" stroke-width="0.9" stroke-dasharray="1,0.6"/>
<line x1="335.3" y1="178" x2="335.3" y2="204" stroke="#333" stroke-width="0.9" stroke-dasharray="1,0.6"/>
<line x1="346.3" y1="181" x2="346.3" y2="207" stroke="#333" stroke-width="0.9" stroke-dasharray="1,0.6"/>
<line x1="357.3" y1="186" x2="357.3" y2="210" stroke="#333" stroke-width="0.9" stroke-dasharray="1,0.6"/>
<polyline points="291.3,205.84 302.3,198.56 313.3,169.05 324.3,171.42 335.3,180.59 346.3,185.98 357.3,189.1 368.3,200.16 379.3,201.87" fill="none" stroke="#1a1a1a" stroke-width="1.4" stroke-linejoin="round"/>
<circle cx="291.3" cy="205.84" r="1.15" fill="#1a1a1a"/>
<circle cx="302.3" cy="198.56" r="1.15" fill="#1a1a1a"/>
<circle cx="313.3" cy="169.05" r="1.15" fill="#1a1a1a"/>
<circle cx="324.3" cy="171.42" r="1.15" fill="#1a1a1a"/>
<circle cx="335.3" cy="180.59" r="1.15" fill="#1a1a1a"/>
<circle cx="346.3" cy="185.98" r="1.15" fill="#1a1a1a"/>
<circle cx="357.3" cy="189.1" r="1.15" fill="#1a1a1a"/>
<circle cx="368.3" cy="200.16" r="1.15" fill="#1a1a1a"/>
<circle cx="379.3" cy="201.87" r="1.15" fill="#1a1a1a"/>
<polyline points="291.3,207.07 302.3,199.5 313.3,170.19 324.3,172.08 335.3,179.64 346.3,184.84 357.3,188.15 368.3,199.5 379.3,201.39" fill="none" stroke="#1a1a1a" stroke-width="0.9" stroke-linejoin="round" stroke-dasharray="1.2,1"/>
<circle cx="291.3" cy="207.07" r="1.15" fill="#1a1a1a"/>
<circle cx="302.3" cy="199.5" r="1.15" fill="#1a1a1a"/>
<circle cx="313.3" cy="170.19" r="1.15" fill="#1a1a1a"/>
<circle cx="324.3" cy="172.08" r="1.15" fill="#1a1a1a"/>
<circle cx="335.3" cy="179.64" r="1.15" fill="#1a1a1a"/>
<circle cx="346.3" cy="184.84" r="1.15" fill="#1a1a1a"/>
<circle cx="357.3" cy="188.15" r="1.15" fill="#1a1a1a"/>
<circle cx="368.3" cy="199.5" r="1.15" fill="#1a1a1a"/>
<circle cx="379.3" cy="201.39" r="1.15" fill="#1a1a1a"/>
<polyline points="291.3,210 302.3,203.95 313.3,188.63 324.3,195.34 335.3,199.03 346.3,204.42 357.3,207.64 368.3,209.34 379.3,211.32" fill="none" stroke="#1a1a1a" stroke-width="0.9" stroke-linejoin="round"/>
<circle cx="291.3" cy="210" r="1.15" fill="#1a1a1a"/>
<circle cx="302.3" cy="203.95" r="1.15" fill="#1a1a1a"/>
<circle cx="313.3" cy="188.63" r="1.15" fill="#1a1a1a"/>
<circle cx="324.3" cy="195.34" r="1.15" fill="#1a1a1a"/>
<circle cx="335.3" cy="199.03" r="1.15" fill="#1a1a1a"/>
<circle cx="346.3" cy="204.42" r="1.15" fill="#1a1a1a"/>
<circle cx="357.3" cy="207.64" r="1.15" fill="#1a1a1a"/>
<circle cx="368.3" cy="209.34" r="1.15" fill="#1a1a1a"/>
<circle cx="379.3" cy="211.32" r="1.15" fill="#1a1a1a"/>
<polyline points="291.3,212.46 302.3,204.42 313.3,195.34 324.3,200.16 335.3,202.72 346.3,205.08 357.3,207.64 368.3,209.34 379.3,211.32" fill="none" stroke="#1a1a1a" stroke-width="0.9" stroke-linejoin="round"/>
<circle cx="291.3" cy="212.46" r="1.15" fill="#1a1a1a"/>
<circle cx="302.3" cy="204.42" r="1.15" fill="#1a1a1a"/>
<circle cx="313.3" cy="195.34" r="1.15" fill="#1a1a1a"/>
<circle cx="324.3" cy="200.16" r="1.15" fill="#1a1a1a"/>
<circle cx="335.3" cy="202.72" r="1.15" fill="#1a1a1a"/>
<circle cx="346.3" cy="205.08" r="1.15" fill="#1a1a1a"/>
<circle cx="357.3" cy="207.64" r="1.15" fill="#1a1a1a"/>
<circle cx="368.3" cy="209.34" r="1.15" fill="#1a1a1a"/>
<circle cx="379.3" cy="211.32" r="1.15" fill="#1a1a1a"/>
<text x="302.3" y="175.2" font-size="5.6" font-weight="normal" text-anchor="middle" fill="#1a1a1a">∇</text>
<text x="302.3" y="179.8" font-size="5.6" font-weight="normal" text-anchor="middle" fill="#1a1a1a">Δ</text>
<text x="302.3" y="188.8" font-size="4.8" font-weight="bold" text-anchor="middle" fill="#1a1a1a" stroke="#1a1a1a" stroke-width="0.35">#</text>
<text x="313.3" y="158.7" font-size="5.6" font-weight="normal" text-anchor="middle" fill="#1a1a1a">Δ</text>
<text x="313.3" y="163.9" font-size="4.8" font-weight="bold" text-anchor="middle" fill="#1a1a1a" stroke="#1a1a1a" stroke-width="0.35">#</text>
<text x="313.3" y="180.1" font-size="5.6" font-weight="normal" text-anchor="middle" fill="#1a1a1a">∇</text>
<text x="313.3" y="187.2" font-size="7" font-weight="bold" text-anchor="middle" fill="#1a1a1a">*</text>
<text x="324.3" y="166.6" font-size="5.6" font-weight="normal" text-anchor="middle" fill="#1a1a1a">Δ</text>
<text x="324.3" y="171.3" font-size="4.8" font-weight="bold" text-anchor="middle" fill="#1a1a1a" stroke="#1a1a1a" stroke-width="0.35">#</text>
<text x="324.3" y="186.7" font-size="5.6" font-weight="normal" text-anchor="middle" fill="#1a1a1a">∇</text>
<text x="335.3" y="172.7" font-size="5.6" font-weight="normal" text-anchor="middle" fill="#1a1a1a">Δ</text>
<text x="335.3" y="178.2" font-size="4.8" font-weight="bold" text-anchor="middle" fill="#1a1a1a" stroke="#1a1a1a" stroke-width="0.35">#</text>
<text x="335.3" y="192.4" font-size="5.6" font-weight="normal" text-anchor="middle" fill="#1a1a1a">∇</text>
<text x="346.3" y="175.2" font-size="5.6" font-weight="normal" text-anchor="middle" fill="#1a1a1a">Δ</text>
<text x="346.3" y="181.1" font-size="4.8" font-weight="bold" text-anchor="middle" fill="#1a1a1a" stroke="#1a1a1a" stroke-width="0.35">#</text>
<text x="346.3" y="194.8" font-size="5.6" font-weight="normal" text-anchor="middle" fill="#1a1a1a">∇</text>
<text x="357.3" y="180.8" font-size="5.6" font-weight="normal" text-anchor="middle" fill="#1a1a1a">Δ</text>
<text x="357.3" y="186.5" font-size="4.8" font-weight="bold" text-anchor="middle" fill="#1a1a1a" stroke="#1a1a1a" stroke-width="0.35">#</text>
<text x="0.2" y="260.8" font-size="8.2" font-weight="bold" text-anchor="start" fill="#1a1a1a">I</text>
<text x="7.2" y="310.7" font-size="5.2" font-weight="bold" text-anchor="middle" fill="#1a1a1a" transform="rotate(-90 7.2 310.7)" stroke="#1a1a1a" stroke-width="0.18">Relative fluorescence intensity</text>
<text x="13.2" y="310.7" font-size="5.2" font-weight="bold" text-anchor="middle" fill="#1a1a1a" transform="rotate(-90 13.2 310.7)" stroke="#1a1a1a" stroke-width="0.18">(cytosolic free calcium)</text>
<line x1="21.8" y1="280.2" x2="21.8" y2="344" stroke="#111" stroke-width="1"/>
<line x1="20.5" y1="343.5" x2="21.8" y2="343.5" stroke="#1a1a1a" stroke-width="0.8"/>
<text x="18" y="345.5" font-size="4.5" font-weight="bold" text-anchor="middle" fill="#1a1a1a" stroke="#1a1a1a" stroke-width="0.15">0</text>
<line x1="20.5" y1="327.68" x2="21.8" y2="327.68" stroke="#1a1a1a" stroke-width="0.8"/>
<text x="18" y="329.68" font-size="4.5" font-weight="bold" text-anchor="middle" fill="#1a1a1a" stroke="#1a1a1a" stroke-width="0.15">1</text>
<line x1="20.5" y1="311.85" x2="21.8" y2="311.85" stroke="#1a1a1a" stroke-width="0.8"/>
<text x="18" y="313.85" font-size="4.5" font-weight="bold" text-anchor="middle" fill="#1a1a1a" stroke="#1a1a1a" stroke-width="0.15">2</text>
<line x1="20.5" y1="296.02" x2="21.8" y2="296.02" stroke="#1a1a1a" stroke-width="0.8"/>
<text x="18" y="298.02" font-size="4.5" font-weight="bold" text-anchor="middle" fill="#1a1a1a" stroke="#1a1a1a" stroke-width="0.15">3</text>
<line x1="20.5" y1="280.2" x2="21.8" y2="280.2" stroke="#1a1a1a" stroke-width="0.8"/>
<text x="18" y="282.2" font-size="4.5" font-weight="bold" text-anchor="middle" fill="#1a1a1a" stroke="#1a1a1a" stroke-width="0.15">4</text>
<line x1="21.3" y1="343.5" x2="117.1" y2="343.5" stroke="#111" stroke-width="1"/>
<line x1="27" y1="343.5" x2="27" y2="344.8" stroke="#1a1a1a" stroke-width="0.8"/>
<text x="28.5" y="349.4" font-size="4.9" font-weight="bold" text-anchor="end" fill="#1a1a1a" transform="rotate(-45 28.5 349.4)" stroke="#1a1a1a" stroke-width="0.3">0</text>
<line x1="37.57" y1="343.5" x2="37.57" y2="344.8" stroke="#1a1a1a" stroke-width="0.8"/>
<text x="39.07" y="349.4" font-size="4.9" font-weight="bold" text-anchor="end" fill="#1a1a1a" transform="rotate(-45 39.07 349.4)" stroke="#1a1a1a" stroke-width="0.3">15</text>
<line x1="48.14" y1="343.5" x2="48.14" y2="344.8" stroke="#1a1a1a" stroke-width="0.8"/>
<text x="49.64" y="349.4" font-size="4.9" font-weight="bold" text-anchor="end" fill="#1a1a1a" transform="rotate(-45 49.64 349.4)" stroke="#1a1a1a" stroke-width="0.3">30</text>
<line x1="58.71" y1="343.5" x2="58.71" y2="344.8" stroke="#1a1a1a" stroke-width="0.8"/>
<text x="60.21" y="349.4" font-size="4.9" font-weight="bold" text-anchor="end" fill="#1a1a1a" transform="rotate(-45 60.21 349.4)" stroke="#1a1a1a" stroke-width="0.3">45</text>
<line x1="69.28" y1="343.5" x2="69.28" y2="344.8" stroke="#1a1a1a" stroke-width="0.8"/>
<text x="70.78" y="349.4" font-size="4.9" font-weight="bold" text-anchor="end" fill="#1a1a1a" transform="rotate(-45 70.78 349.4)" stroke="#1a1a1a" stroke-width="0.3">60</text>
<line x1="79.85" y1="343.5" x2="79.85" y2="344.8" stroke="#1a1a1a" stroke-width="0.8"/>
<text x="81.35" y="349.4" font-size="4.9" font-weight="bold" text-anchor="end" fill="#1a1a1a" transform="rotate(-45 81.35 349.4)" stroke="#1a1a1a" stroke-width="0.3">75</text>
<line x1="90.42" y1="343.5" x2="90.42" y2="344.8" stroke="#1a1a1a" stroke-width="0.8"/>
<text x="91.92" y="349.4" font-size="4.9" font-weight="bold" text-anchor="end" fill="#1a1a1a" transform="rotate(-45 91.92 349.4)" stroke="#1a1a1a" stroke-width="0.3">90</text>
<line x1="100.99" y1="343.5" x2="100.99" y2="344.8" stroke="#1a1a1a" stroke-width="0.8"/>
<text x="102.49" y="349.4" font-size="4.9" font-weight="bold" text-anchor="end" fill="#1a1a1a" transform="rotate(-45 102.49 349.4)" stroke="#1a1a1a" stroke-width="0.3">105</text>
<line x1="111.56" y1="343.5" x2="111.56" y2="344.8" stroke="#1a1a1a" stroke-width="0.8"/>
<text x="113.06" y="349.4" font-size="4.9" font-weight="bold" text-anchor="end" fill="#1a1a1a" transform="rotate(-45 113.06 349.4)" stroke="#1a1a1a" stroke-width="0.3">120</text>
<text x="69.3" y="363.2" font-size="5.4" font-weight="bold" text-anchor="middle" fill="#1a1a1a" stroke="#1a1a1a" stroke-width="0.15">time (seconds)</text>
<rect x="68.3" y="269.5" width="45" height="20.8" fill="#fff" stroke="#333" stroke-width="1"/>
<line x1="71.8" y1="276.4" x2="78.7" y2="276.4" stroke="#1a1a1a" stroke-width="1.2"/>
<circle cx="75.25" cy="276.4" r="1.2" fill="#1a1a1a"/>
<text x="82.2" y="278.4" font-size="4.8" font-weight="normal" text-anchor="start" fill="#1a1a1a">CTL <tspan font-weight="bold" font-size="5.6" dy="1.4">*</tspan></text>
<line x1="71.8" y1="283.3" x2="78.7" y2="283.3" stroke="#1a1a1a" stroke-width="1.2" stroke-dasharray="1,0.8"/>
<circle cx="75.25" cy="283.3" r="1.2" fill="#1a1a1a"/>
<text x="82.2" y="285.3" font-size="4.8" font-weight="normal" text-anchor="start" fill="#1a1a1a">PDTC <tspan font-weight="bold" font-size="5.6">#</tspan></text>
<line x1="37.57" y1="297" x2="37.57" y2="314" stroke="#333" stroke-width="0.9" stroke-dasharray="1,0.6"/>
<line x1="48.14" y1="279" x2="48.14" y2="302" stroke="#333" stroke-width="0.9" stroke-dasharray="1,0.6"/>
<line x1="58.71" y1="298" x2="58.71" y2="312" stroke="#333" stroke-width="0.9" stroke-dasharray="1,0.6"/>
<line x1="69.28" y1="303" x2="69.28" y2="316" stroke="#333" stroke-width="0.9" stroke-dasharray="1,0.6"/>
<line x1="79.85" y1="315" x2="79.85" y2="324" stroke="#333" stroke-width="0.9" stroke-dasharray="1,0.6"/>
<line x1="90.42" y1="321" x2="90.42" y2="327" stroke="#333" stroke-width="0.9" stroke-dasharray="1,0.6"/>
<line x1="100.99" y1="324" x2="100.99" y2="329" stroke="#333" stroke-width="0.9" stroke-dasharray="1,0.6"/>
<line x1="111.56" y1="327" x2="111.56" y2="332" stroke="#333" stroke-width="0.9" stroke-dasharray="1,0.6"/>
<polyline points="27,326.57 37.57,305.2 48.14,288.9 58.71,307.89 69.28,312.48 79.85,320.24 90.42,324.19 100.99,326.57 111.56,329.57" fill="none" stroke="#1a1a1a" stroke-width="1.3" stroke-linejoin="round"/>
<circle cx="27" cy="326.57" r="1.15" fill="#1a1a1a"/>
<circle cx="37.57" cy="305.2" r="1.15" fill="#1a1a1a"/>
<circle cx="48.14" cy="288.9" r="1.15" fill="#1a1a1a"/>
<circle cx="58.71" cy="307.89" r="1.15" fill="#1a1a1a"/>
<circle cx="69.28" cy="312.48" r="1.15" fill="#1a1a1a"/>
<circle cx="79.85" cy="320.24" r="1.15" fill="#1a1a1a"/>
<circle cx="90.42" cy="324.19" r="1.15" fill="#1a1a1a"/>
<circle cx="100.99" cy="326.57" r="1.15" fill="#1a1a1a"/>
<circle cx="111.56" cy="329.57" r="1.15" fill="#1a1a1a"/>
<polyline points="27,326.57 37.57,311.85 48.14,301.88 58.71,308.53 69.28,310.9 79.85,321.82 90.42,324.83 100.99,327.2 111.56,329.57" fill="none" stroke="#1a1a1a" stroke-width="0.9" stroke-linejoin="round" stroke-dasharray="1.2,1"/>
<circle cx="27" cy="326.57" r="1.15" fill="#1a1a1a"/>
<circle cx="37.57" cy="311.85" r="1.15" fill="#1a1a1a"/>
<circle cx="48.14" cy="301.88" r="1.15" fill="#1a1a1a"/>
<circle cx="58.71" cy="308.53" r="1.15" fill="#1a1a1a"/>
<circle cx="69.28" cy="310.9" r="1.15" fill="#1a1a1a"/>
<circle cx="79.85" cy="321.82" r="1.15" fill="#1a1a1a"/>
<circle cx="90.42" cy="324.83" r="1.15" fill="#1a1a1a"/>
<circle cx="100.99" cy="327.2" r="1.15" fill="#1a1a1a"/>
<circle cx="111.56" cy="329.57" r="1.15" fill="#1a1a1a"/>
<text x="37.57" y="297" font-size="4.8" font-weight="bold" text-anchor="middle" fill="#1a1a1a" stroke="#1a1a1a" stroke-width="0.35">#</text>
<text x="37.57" y="302.8" font-size="7" font-weight="bold" text-anchor="middle" fill="#1a1a1a">*</text>
<text x="48.14" y="278.4" font-size="4.8" font-weight="bold" text-anchor="middle" fill="#1a1a1a" stroke="#1a1a1a" stroke-width="0.35">#</text>
<text x="48.14" y="284.7" font-size="7" font-weight="bold" text-anchor="middle" fill="#1a1a1a">*</text>
<text x="58.71" y="298.1" font-size="4.8" font-weight="bold" text-anchor="middle" fill="#1a1a1a" stroke="#1a1a1a" stroke-width="0.35">#</text>
<text x="58.71" y="304" font-size="7" font-weight="bold" text-anchor="middle" fill="#1a1a1a">*</text>
<text x="69.28" y="302.8" font-size="4.8" font-weight="bold" text-anchor="middle" fill="#1a1a1a" stroke="#1a1a1a" stroke-width="0.35">#</text>
<text x="69.28" y="307.9" font-size="7" font-weight="bold" text-anchor="middle" fill="#1a1a1a">*</text>
<text x="79.85" y="317.9" font-size="7" font-weight="bold" text-anchor="middle" fill="#1a1a1a">*</text>
<text x="257.9" y="260.8" font-size="8.2" font-weight="bold" text-anchor="start" fill="#1a1a1a">K</text>
<text x="271.2" y="309.4" font-size="5.2" font-weight="bold" text-anchor="middle" fill="#1a1a1a" transform="rotate(-90 271.2 309.4)" stroke="#1a1a1a" stroke-width="0.18">Relative fluorescence intensity</text>
<text x="277.2" y="309.4" font-size="5.2" font-weight="bold" text-anchor="middle" fill="#1a1a1a" transform="rotate(-90 277.2 309.4)" stroke="#1a1a1a" stroke-width="0.18">(cytosolic free calcium)</text>
<line x1="285.8" y1="277.8" x2="285.8" y2="344" stroke="#111" stroke-width="1"/>
<line x1="284.5" y1="343.5" x2="285.8" y2="343.5" stroke="#1a1a1a" stroke-width="0.8"/>
<text x="282" y="345.5" font-size="4.5" font-weight="bold" text-anchor="middle" fill="#1a1a1a" stroke="#1a1a1a" stroke-width="0.15">0</text>
<line x1="284.5" y1="334.11" x2="285.8" y2="334.11" stroke="#1a1a1a" stroke-width="0.8"/>
<text x="282" y="336.11" font-size="4.5" font-weight="bold" text-anchor="middle" fill="#1a1a1a" stroke="#1a1a1a" stroke-width="0.15">1</text>
<line x1="284.5" y1="324.73" x2="285.8" y2="324.73" stroke="#1a1a1a" stroke-width="0.8"/>
<text x="282" y="326.73" font-size="4.5" font-weight="bold" text-anchor="middle" fill="#1a1a1a" stroke="#1a1a1a" stroke-width="0.15">2</text>
<line x1="284.5" y1="315.34" x2="285.8" y2="315.34" stroke="#1a1a1a" stroke-width="0.8"/>
<text x="282" y="317.34" font-size="4.5" font-weight="bold" text-anchor="middle" fill="#1a1a1a" stroke="#1a1a1a" stroke-width="0.15">3</text>
<line x1="284.5" y1="305.96" x2="285.8" y2="305.96" stroke="#1a1a1a" stroke-width="0.8"/>
<text x="282" y="307.96" font-size="4.5" font-weight="bold" text-anchor="middle" fill="#1a1a1a" stroke="#1a1a1a" stroke-width="0.15">4</text>
<line x1="284.5" y1="296.57" x2="285.8" y2="296.57" stroke="#1a1a1a" stroke-width="0.8"/>
<text x="282" y="298.57" font-size="4.5" font-weight="bold" text-anchor="middle" fill="#1a1a1a" stroke="#1a1a1a" stroke-width="0.15">5</text>
<line x1="284.5" y1="287.19" x2="285.8" y2="287.19" stroke="#1a1a1a" stroke-width="0.8"/>
<text x="282" y="289.19" font-size="4.5" font-weight="bold" text-anchor="middle" fill="#1a1a1a" stroke="#1a1a1a" stroke-width="0.15">6</text>
<line x1="284.5" y1="277.8" x2="285.8" y2="277.8" stroke="#1a1a1a" stroke-width="0.8"/>
<text x="282" y="279.8" font-size="4.5" font-weight="bold" text-anchor="middle" fill="#1a1a1a" stroke="#1a1a1a" stroke-width="0.15">7</text>
<line x1="285.3" y1="343.5" x2="385.2" y2="343.5" stroke="#111" stroke-width="1"/>
<line x1="291.5" y1="343.5" x2="291.5" y2="344.8" stroke="#1a1a1a" stroke-width="0.8"/>
<text x="293" y="349.4" font-size="4.9" font-weight="bold" text-anchor="end" fill="#1a1a1a" transform="rotate(-45 293 349.4)" stroke="#1a1a1a" stroke-width="0.3">0</text>
<line x1="302.47" y1="343.5" x2="302.47" y2="344.8" stroke="#1a1a1a" stroke-width="0.8"/>
<text x="303.97" y="349.4" font-size="4.9" font-weight="bold" text-anchor="end" fill="#1a1a1a" transform="rotate(-45 303.97 349.4)" stroke="#1a1a1a" stroke-width="0.3">15</text>
<line x1="313.44" y1="343.5" x2="313.44" y2="344.8" stroke="#1a1a1a" stroke-width="0.8"/>
<text x="314.94" y="349.4" font-size="4.9" font-weight="bold" text-anchor="end" fill="#1a1a1a" transform="rotate(-45 314.94 349.4)" stroke="#1a1a1a" stroke-width="0.3">30</text>
<line x1="324.41" y1="343.5" x2="324.41" y2="344.8" stroke="#1a1a1a" stroke-width="0.8"/>
<text x="325.91" y="349.4" font-size="4.9" font-weight="bold" text-anchor="end" fill="#1a1a1a" transform="rotate(-45 325.91 349.4)" stroke="#1a1a1a" stroke-width="0.3">45</text>
<line x1="335.38" y1="343.5" x2="335.38" y2="344.8" stroke="#1a1a1a" stroke-width="0.8"/>
<text x="336.88" y="349.4" font-size="4.9" font-weight="bold" text-anchor="end" fill="#1a1a1a" transform="rotate(-45 336.88 349.4)" stroke="#1a1a1a" stroke-width="0.3">60</text>
<line x1="346.35" y1="343.5" x2="346.35" y2="344.8" stroke="#1a1a1a" stroke-width="0.8"/>
<text x="347.85" y="349.4" font-size="4.9" font-weight="bold" text-anchor="end" fill="#1a1a1a" transform="rotate(-45 347.85 349.4)" stroke="#1a1a1a" stroke-width="0.3">75</text>
<line x1="357.32" y1="343.5" x2="357.32" y2="344.8" stroke="#1a1a1a" stroke-width="0.8"/>
<text x="358.82" y="349.4" font-size="4.9" font-weight="bold" text-anchor="end" fill="#1a1a1a" transform="rotate(-45 358.82 349.4)" stroke="#1a1a1a" stroke-width="0.3">90</text>
<line x1="368.29" y1="343.5" x2="368.29" y2="344.8" stroke="#1a1a1a" stroke-width="0.8"/>
<text x="369.79" y="349.4" font-size="4.9" font-weight="bold" text-anchor="end" fill="#1a1a1a" transform="rotate(-45 369.79 349.4)" stroke="#1a1a1a" stroke-width="0.3">105</text>
<line x1="379.26" y1="343.5" x2="379.26" y2="344.8" stroke="#1a1a1a" stroke-width="0.8"/>
<text x="380.76" y="349.4" font-size="4.9" font-weight="bold" text-anchor="end" fill="#1a1a1a" transform="rotate(-45 380.76 349.4)" stroke="#1a1a1a" stroke-width="0.3">120</text>
<text x="335.3" y="363.5" font-size="5.4" font-weight="bold" text-anchor="middle" fill="#1a1a1a" stroke="#1a1a1a" stroke-width="0.15">time (seconds)</text>
<rect x="337.5" y="267.5" width="47.8" height="22.2" fill="#fff" stroke="#333" stroke-width="1"/>
<line x1="341.2" y1="273" x2="348.2" y2="273" stroke="#1a1a1a" stroke-width="1.2"/>
<circle cx="344.7" cy="273" r="1.2" fill="#1a1a1a"/>
<text x="351.8" y="275" font-size="4.8" font-weight="normal" text-anchor="start" fill="#1a1a1a">CTL <tspan font-weight="bold" font-size="5.6" dy="1.4">*</tspan></text>
<line x1="341.2" y1="279.1" x2="348.2" y2="279.1" stroke="#1a1a1a" stroke-width="1.2"/>
<circle cx="344.7" cy="279.1" r="1.2" fill="#1a1a1a"/>
<text x="351.8" y="281.1" font-size="4.8" font-weight="normal" text-anchor="start" fill="#1a1a1a">Adr+DMSO <tspan font-weight="bold" font-size="5.6">#</tspan></text>
<line x1="341.2" y1="284.7" x2="348.2" y2="284.7" stroke="#1a1a1a" stroke-width="1.2" stroke-dasharray="1,0.8"/>
<circle cx="344.7" cy="284.7" r="1.2" fill="#1a1a1a"/>
<text x="351.8" y="286.7" font-size="4.8" font-weight="normal" text-anchor="start" fill="#1a1a1a">Adr+PDTC <tspan font-size="5.6">Δ</tspan></text>
<line x1="291.5" y1="320" x2="291.5" y2="337" stroke="#333" stroke-width="0.9" stroke-dasharray="1,0.6"/>
<line x1="302.47" y1="304" x2="302.47" y2="326" stroke="#333" stroke-width="0.9" stroke-dasharray="1,0.6"/>
<line x1="313.44" y1="300" x2="313.44" y2="316" stroke="#333" stroke-width="0.9" stroke-dasharray="1,0.6"/>
<line x1="324.41" y1="310" x2="324.41" y2="325" stroke="#333" stroke-width="0.9" stroke-dasharray="1,0.6"/>
<line x1="335.38" y1="314" x2="335.38" y2="330" stroke="#333" stroke-width="0.9" stroke-dasharray="1,0.6"/>
<line x1="346.35" y1="320" x2="346.35" y2="333" stroke="#333" stroke-width="0.9" stroke-dasharray="1,0.6"/>
<line x1="357.32" y1="323" x2="357.32" y2="335" stroke="#333" stroke-width="0.9" stroke-dasharray="1,0.6"/>
<line x1="368.29" y1="325" x2="368.29" y2="337" stroke="#333" stroke-width="0.9" stroke-dasharray="1,0.6"/>
<line x1="379.26" y1="323" x2="379.26" y2="338" stroke="#333" stroke-width="0.9" stroke-dasharray="1,0.6"/>
<polyline points="291.5,325.67 302.47,313.75 313.44,294.51 324.41,294.51 335.38,300.51 346.35,306.52 357.32,313.75 368.29,321.63 379.26,327.45" fill="none" stroke="#1a1a1a" stroke-width="1.4" stroke-linejoin="round"/>
<circle cx="291.5" cy="325.67" r="1.15" fill="#1a1a1a"/>
<circle cx="302.47" cy="313.75" r="1.15" fill="#1a1a1a"/>
<circle cx="313.44" cy="294.51" r="1.15" fill="#1a1a1a"/>
<circle cx="324.41" cy="294.51" r="1.15" fill="#1a1a1a"/>
<circle cx="335.38" cy="300.51" r="1.15" fill="#1a1a1a"/>
<circle cx="346.35" cy="306.52" r="1.15" fill="#1a1a1a"/>
<circle cx="357.32" cy="313.75" r="1.15" fill="#1a1a1a"/>
<circle cx="368.29" cy="321.63" r="1.15" fill="#1a1a1a"/>
<circle cx="379.26" cy="327.45" r="1.15" fill="#1a1a1a"/>
<polyline points="291.5,328.11 302.47,319.1 313.44,309.43 324.41,318.16 335.38,322.57 346.35,326.14 357.32,328.11 368.29,329.89 379.26,332.24" fill="none" stroke="#1a1a1a" stroke-width="0.9" stroke-linejoin="round" stroke-dasharray="1.2,1"/>
<circle cx="291.5" cy="328.11" r="1.15" fill="#1a1a1a"/>
<circle cx="302.47" cy="319.1" r="1.15" fill="#1a1a1a"/>
<circle cx="313.44" cy="309.43" r="1.15" fill="#1a1a1a"/>
<circle cx="324.41" cy="318.16" r="1.15" fill="#1a1a1a"/>
<circle cx="335.38" cy="322.57" r="1.15" fill="#1a1a1a"/>
<circle cx="346.35" cy="326.14" r="1.15" fill="#1a1a1a"/>
<circle cx="357.32" cy="328.11" r="1.15" fill="#1a1a1a"/>
<circle cx="368.29" cy="329.89" r="1.15" fill="#1a1a1a"/>
<circle cx="379.26" cy="332.24" r="1.15" fill="#1a1a1a"/>
<polyline points="291.5,333.64 302.47,323.98 313.44,313 324.41,322.1 335.38,326.89 346.35,329.33 357.32,331.2 368.29,332.24 379.26,334.58" fill="none" stroke="#1a1a1a" stroke-width="1.1" stroke-linejoin="round"/>
<circle cx="291.5" cy="333.64" r="1.15" fill="#1a1a1a"/>
<circle cx="302.47" cy="323.98" r="1.15" fill="#1a1a1a"/>
<circle cx="313.44" cy="313" r="1.15" fill="#1a1a1a"/>
<circle cx="324.41" cy="322.1" r="1.15" fill="#1a1a1a"/>
<circle cx="335.38" cy="326.89" r="1.15" fill="#1a1a1a"/>
<circle cx="346.35" cy="329.33" r="1.15" fill="#1a1a1a"/>
<circle cx="357.32" cy="331.2" r="1.15" fill="#1a1a1a"/>
<circle cx="368.29" cy="332.24" r="1.15" fill="#1a1a1a"/>
<circle cx="379.26" cy="334.58" r="1.15" fill="#1a1a1a"/>
<text x="302.47" y="298.8" font-size="5.6" font-weight="normal" text-anchor="middle" fill="#1a1a1a">Δ</text>
<text x="302.47" y="303.1" font-size="4.8" font-weight="bold" text-anchor="middle" fill="#1a1a1a" stroke="#1a1a1a" stroke-width="0.35">#</text>
<text x="302.47" y="309.6" font-size="7" font-weight="bold" text-anchor="middle" fill="#1a1a1a">*</text>
<text x="313.44" y="289.8" font-size="4.8" font-weight="bold" text-anchor="middle" fill="#1a1a1a" stroke="#1a1a1a" stroke-width="0.35">#</text>
<text x="313.44" y="304.2" font-size="5.6" font-weight="normal" text-anchor="middle" fill="#1a1a1a">Δ</text>
<text x="324.41" y="291" font-size="4.8" font-weight="bold" text-anchor="middle" fill="#1a1a1a" stroke="#1a1a1a" stroke-width="0.35">#</text>
<text x="324.41" y="312.1" font-size="5.6" font-weight="normal" text-anchor="middle" fill="#1a1a1a">Δ</text>
<text x="335.38" y="296.3" font-size="4.8" font-weight="bold" text-anchor="middle" fill="#1a1a1a" stroke="#1a1a1a" stroke-width="0.35">#</text>
<text x="335.38" y="314.8" font-size="5.6" font-weight="normal" text-anchor="middle" fill="#1a1a1a">Δ</text>
<text x="346.35" y="302.4" font-size="4.8" font-weight="bold" text-anchor="middle" fill="#1a1a1a" stroke="#1a1a1a" stroke-width="0.35">#</text>
<text x="357.32" y="309.8" font-size="4.8" font-weight="bold" text-anchor="middle" fill="#1a1a1a" stroke="#1a1a1a" stroke-width="0.35">#</text>
<text x="368.29" y="317.9" font-size="4.8" font-weight="bold" text-anchor="middle" fill="#1a1a1a" stroke="#1a1a1a" stroke-width="0.35">#</text>
<text x="129.6" y="5.9" font-size="8.2" font-weight="bold" text-anchor="start" fill="#1a1a1a">B</text>
<text x="137.2" y="56.7" font-size="5.2" font-weight="bold" text-anchor="middle" fill="#1a1a1a" transform="rotate(-90 137.2 56.7)" stroke="#1a1a1a" stroke-width="0.18">Relative fluorescence intensity</text>
<text x="143.2" y="56.7" font-size="5.2" font-weight="bold" text-anchor="middle" fill="#1a1a1a" transform="rotate(-90 143.2 56.7)" stroke="#1a1a1a" stroke-width="0.18">(cytosolic free calcium)</text>
<line x1="151.8" y1="26.5" x2="151.8" y2="91.5" stroke="#111" stroke-width="1"/>
<line x1="150.5" y1="91" x2="151.8" y2="91" stroke="#1a1a1a" stroke-width="0.8"/>
<text x="148" y="93" font-size="4.5" font-weight="bold" text-anchor="middle" fill="#1a1a1a" stroke="#1a1a1a" stroke-width="0.15">0</text>
<line x1="150.5" y1="74.88" x2="151.8" y2="74.88" stroke="#1a1a1a" stroke-width="0.8"/>
<text x="148" y="76.88" font-size="4.5" font-weight="bold" text-anchor="middle" fill="#1a1a1a" stroke="#1a1a1a" stroke-width="0.15">1</text>
<line x1="150.5" y1="58.75" x2="151.8" y2="58.75" stroke="#1a1a1a" stroke-width="0.8"/>
<text x="148" y="60.75" font-size="4.5" font-weight="bold" text-anchor="middle" fill="#1a1a1a" stroke="#1a1a1a" stroke-width="0.15">2</text>
<line x1="150.5" y1="42.62" x2="151.8" y2="42.62" stroke="#1a1a1a" stroke-width="0.8"/>
<text x="148" y="44.62" font-size="4.5" font-weight="bold" text-anchor="middle" fill="#1a1a1a" stroke="#1a1a1a" stroke-width="0.15">3</text>
<line x1="150.5" y1="26.5" x2="151.8" y2="26.5" stroke="#1a1a1a" stroke-width="0.8"/>
<text x="148" y="28.5" font-size="4.5" font-weight="bold" text-anchor="middle" fill="#1a1a1a" stroke="#1a1a1a" stroke-width="0.15">4</text>
<line x1="151.3" y1="91" x2="248.5" y2="91" stroke="#111" stroke-width="1"/>
<line x1="175.8" y1="91" x2="175.8" y2="92.3" stroke="#1a1a1a" stroke-width="0.8"/>
<line x1="224.7" y1="91" x2="224.7" y2="92.3" stroke="#1a1a1a" stroke-width="0.8"/>
<rect x="156" y="74.9" width="11.8" height="16.1" fill="#111" stroke="#000" stroke-width="0.5"/>
<line x1="176.35" y1="75.4" x2="176.35" y2="74.6" stroke="#555" stroke-width="0.8"/>
<line x1="173.95" y1="74.6" x2="178.75" y2="74.6" stroke="#1a1a1a" stroke-width="1"/>
<rect x="171" y="75.4" width="10.7" height="15.6" fill="#9c9c9c" stroke="#8a8a8a" stroke-width="0.5"/>
<line x1="190.45" y1="76.3" x2="190.45" y2="75.6" stroke="#555" stroke-width="0.8"/>
<line x1="188.05" y1="75.6" x2="192.85" y2="75.6" stroke="#1a1a1a" stroke-width="1"/>
<rect x="184.6" y="76.3" width="11.7" height="14.7" fill="#6e6e6e" stroke="#5a5a5a" stroke-width="0.5"/>
<line x1="210.45" y1="44.2" x2="210.45" y2="38.3" stroke="#555" stroke-width="0.8"/>
<line x1="208.05" y1="38.3" x2="212.85" y2="38.3" stroke="#1a1a1a" stroke-width="1"/>
<rect x="204.3" y="44.2" width="12.3" height="46.8" fill="#111" stroke="#000" stroke-width="0.5"/>
<line x1="224.85" y1="45.1" x2="224.85" y2="37.1" stroke="#555" stroke-width="0.8"/>
<line x1="222.45" y1="37.1" x2="227.25" y2="37.1" stroke="#1a1a1a" stroke-width="1"/>
<rect x="219" y="45.1" width="11.7" height="45.9" fill="#9c9c9c" stroke="#8a8a8a" stroke-width="0.5"/>
<line x1="239.25" y1="57.4" x2="239.25" y2="54.9" stroke="#555" stroke-width="0.8"/>
<line x1="236.85" y1="54.9" x2="241.65" y2="54.9" stroke="#1a1a1a" stroke-width="1"/>
<rect x="233.3" y="57.4" width="11.9" height="33.6" fill="#6e6e6e" stroke="#5a5a5a" stroke-width="0.5"/>
<path d="M156.3 71.7V71.7H196.6V71.7" fill="none" stroke="#1a1a1a" stroke-width="0.75"/>
<text x="176.45" y="69.1" font-size="4.8" font-weight="normal" text-anchor="middle" fill="#1a1a1a">n.s</text>
<path d="M203.7 35.3V35.3H227.6V35.3" fill="none" stroke="#1a1a1a" stroke-width="0.75"/>
<text x="216" y="34.1" font-size="4.8" font-weight="normal" text-anchor="middle" fill="#1a1a1a">n.s</text>
<path d="M209.2 27V24.6H240.3V27" fill="none" stroke="#1a1a1a" stroke-width="0.75"/>
<text x="226.4" y="25" font-size="7.5" font-weight="bold" text-anchor="middle" fill="#1a1a1a">***</text>
<text x="175.9" y="98.2" font-size="4.8" font-weight="bold" text-anchor="middle" fill="#1a1a1a" stroke="#1a1a1a" stroke-width="0.2">0</text>
<text x="224.6" y="98.2" font-size="4.8" font-weight="bold" text-anchor="middle" fill="#1a1a1a" stroke="#1a1a1a" stroke-width="0.2">30sec</text>
<rect x="153.5" y="5.4" width="34.5" height="22.4" fill="#fff" stroke="#333" stroke-width="1"/>
<rect x="156.5" y="9.2" width="7.9" height="3" fill="#111"/>
<text x="167.9" y="12.3" font-size="4.6" font-weight="normal" text-anchor="start" fill="#1a1a1a">CTL</text>
<rect x="156.5" y="14.7" width="7.9" height="3" fill="#9c9c9c"/>
<text x="167.9" y="17.8" font-size="4.6" font-weight="normal" text-anchor="start" fill="#1a1a1a">Rap</text>
<rect x="156.5" y="20.2" width="7.9" height="3" fill="#6e6e6e"/>
<text x="167.9" y="23.3" font-size="4.6" font-weight="normal" text-anchor="start" fill="#1a1a1a">Ku</text>
<text x="394.6" y="5.9" font-size="8.2" font-weight="bold" text-anchor="start" fill="#1a1a1a">D</text>
<text x="405.8" y="57" font-size="5.2" font-weight="bold" text-anchor="middle" fill="#1a1a1a" transform="rotate(-90 405.8 57)" stroke="#1a1a1a" stroke-width="0.18">Relative fluorescence intensity</text>
<text x="411.8" y="57" font-size="5.2" font-weight="bold" text-anchor="middle" fill="#1a1a1a" transform="rotate(-90 411.8 57)" stroke="#1a1a1a" stroke-width="0.18">(cytosolic free calcium)</text>
<line x1="420.4" y1="25.3" x2="420.4" y2="91.8" stroke="#111" stroke-width="1"/>
<line x1="419.1" y1="91.3" x2="420.4" y2="91.3" stroke="#1a1a1a" stroke-width="0.8"/>
<text x="416.6" y="93.3" font-size="4.5" font-weight="bold" text-anchor="middle" fill="#1a1a1a" stroke="#1a1a1a" stroke-width="0.15">0</text>
<line x1="419.1" y1="83.05" x2="420.4" y2="83.05" stroke="#1a1a1a" stroke-width="0.8"/>
<text x="416.6" y="85.05" font-size="4.5" font-weight="bold" text-anchor="middle" fill="#1a1a1a" stroke="#1a1a1a" stroke-width="0.15">1</text>
<line x1="419.1" y1="74.8" x2="420.4" y2="74.8" stroke="#1a1a1a" stroke-width="0.8"/>
<text x="416.6" y="76.8" font-size="4.5" font-weight="bold" text-anchor="middle" fill="#1a1a1a" stroke="#1a1a1a" stroke-width="0.15">2</text>
<line x1="419.1" y1="66.55" x2="420.4" y2="66.55" stroke="#1a1a1a" stroke-width="0.8"/>
<text x="416.6" y="68.55" font-size="4.5" font-weight="bold" text-anchor="middle" fill="#1a1a1a" stroke="#1a1a1a" stroke-width="0.15">3</text>
<line x1="419.1" y1="58.3" x2="420.4" y2="58.3" stroke="#1a1a1a" stroke-width="0.8"/>
<text x="416.6" y="60.3" font-size="4.5" font-weight="bold" text-anchor="middle" fill="#1a1a1a" stroke="#1a1a1a" stroke-width="0.15">4</text>
<line x1="419.1" y1="50.05" x2="420.4" y2="50.05" stroke="#1a1a1a" stroke-width="0.8"/>
<text x="416.6" y="52.05" font-size="4.5" font-weight="bold" text-anchor="middle" fill="#1a1a1a" stroke="#1a1a1a" stroke-width="0.15">5</text>
<line x1="419.1" y1="41.8" x2="420.4" y2="41.8" stroke="#1a1a1a" stroke-width="0.8"/>
<text x="416.6" y="43.8" font-size="4.5" font-weight="bold" text-anchor="middle" fill="#1a1a1a" stroke="#1a1a1a" stroke-width="0.15">6</text>
<line x1="419.1" y1="33.55" x2="420.4" y2="33.55" stroke="#1a1a1a" stroke-width="0.8"/>
<text x="416.6" y="35.55" font-size="4.5" font-weight="bold" text-anchor="middle" fill="#1a1a1a" stroke="#1a1a1a" stroke-width="0.15">7</text>
<line x1="419.1" y1="25.3" x2="420.4" y2="25.3" stroke="#1a1a1a" stroke-width="0.8"/>
<text x="416.6" y="27.3" font-size="4.5" font-weight="bold" text-anchor="middle" fill="#1a1a1a" stroke="#1a1a1a" stroke-width="0.15">8</text>
<line x1="419.9" y1="91.3" x2="520" y2="91.3" stroke="#111" stroke-width="1"/>
<line x1="444.5" y1="91.3" x2="444.5" y2="92.6" stroke="#1a1a1a" stroke-width="0.8"/>
<line x1="494.5" y1="91.3" x2="494.5" y2="92.6" stroke="#1a1a1a" stroke-width="0.8"/>
<rect x="423.3" y="82.8" width="9.3" height="8.5" fill="#111" stroke="#000" stroke-width="0.5"/>
<line x1="439.45" y1="76.8" x2="439.45" y2="76" stroke="#555" stroke-width="0.8"/>
<line x1="437.05" y1="76" x2="441.85" y2="76" stroke="#1a1a1a" stroke-width="1"/>
<rect x="434.8" y="76.8" width="9.3" height="14.5" fill="#9c9c9c" stroke="#8a8a8a" stroke-width="0.5"/>
<line x1="450.85" y1="77.9" x2="450.85" y2="76.8" stroke="#555" stroke-width="0.8"/>
<line x1="448.45" y1="76.8" x2="453.25" y2="76.8" stroke="#1a1a1a" stroke-width="1"/>
<rect x="446.2" y="77.9" width="9.3" height="13.4" fill="#6e6e6e" stroke="#5a5a5a" stroke-width="0.5"/>
<line x1="461.85" y1="81.7" x2="461.85" y2="80.6" stroke="#555" stroke-width="0.8"/>
<line x1="459.45" y1="80.6" x2="464.25" y2="80.6" stroke="#1a1a1a" stroke-width="1"/>
<rect x="457.2" y="81.7" width="9.3" height="9.6" fill="#d8d8d8" stroke="#bdbdbd" stroke-width="0.5"/>
<line x1="477.65" y1="67.9" x2="477.65" y2="64.6" stroke="#555" stroke-width="0.8"/>
<line x1="475.25" y1="64.6" x2="480.05" y2="64.6" stroke="#1a1a1a" stroke-width="1"/>
<rect x="472.9" y="67.9" width="9.5" height="23.4" fill="#111" stroke="#000" stroke-width="0.5"/>
<line x1="488.8" y1="41.7" x2="488.8" y2="40.1" stroke="#555" stroke-width="0.8"/>
<line x1="486.4" y1="40.1" x2="491.2" y2="40.1" stroke="#1a1a1a" stroke-width="1"/>
<rect x="484.2" y="41.7" width="9.2" height="49.6" fill="#9c9c9c" stroke="#8a8a8a" stroke-width="0.5"/>
<line x1="500.05" y1="40.9" x2="500.05" y2="38.2" stroke="#555" stroke-width="0.8"/>
<line x1="497.65" y1="38.2" x2="502.45" y2="38.2" stroke="#1a1a1a" stroke-width="1"/>
<rect x="495.5" y="40.9" width="9.1" height="50.4" fill="#6e6e6e" stroke="#5a5a5a" stroke-width="0.5"/>
<line x1="511.45" y1="75.8" x2="511.45" y2="75" stroke="#555" stroke-width="0.8"/>
<line x1="509.05" y1="75" x2="513.85" y2="75" stroke="#1a1a1a" stroke-width="1"/>
<rect x="506.8" y="75.8" width="9.3" height="15.5" fill="#d8d8d8" stroke="#bdbdbd" stroke-width="0.5"/>
<path d="M435.3 73V73H454.8V73" fill="none" stroke="#1a1a1a" stroke-width="0.75"/>
<text x="443.75" y="71" font-size="4.8" font-weight="normal" text-anchor="middle" fill="#1a1a1a">n.s</text>
<path d="M426.8 65.3V63.7H462.9V65.3M444.9 63.7V65.3" fill="none" stroke="#1a1a1a" stroke-width="0.75"/>
<text x="435.3" y="63.9" font-size="7.5" font-weight="bold" text-anchor="middle" fill="#1a1a1a">*</text>
<text x="454.1" y="63.7" font-size="7.5" font-weight="bold" text-anchor="middle" fill="#1a1a1a">*</text>
<path d="M477.1 18.5V16.7H513.2V18.5M494.5 16.7V18.5" fill="none" stroke="#1a1a1a" stroke-width="0.75"/>
<text x="494.2" y="17.5" font-size="7.5" font-weight="bold" text-anchor="middle" fill="#1a1a1a">***</text>
<path d="M495.5 28.1V26.2H513.2V28.1" fill="none" stroke="#1a1a1a" stroke-width="0.75"/>
<text x="504.4" y="26.7" font-size="7.5" font-weight="bold" text-anchor="middle" fill="#1a1a1a">***</text>
<path d="M484.7 35.1V35.1H505V35.1" fill="none" stroke="#1a1a1a" stroke-width="0.75"/>
<text x="495" y="32.7" font-size="4.8" font-weight="normal" text-anchor="middle" fill="#1a1a1a">n.s</text>
<text x="444.5" y="98.5" font-size="4.8" font-weight="bold" text-anchor="middle" fill="#1a1a1a" stroke="#1a1a1a" stroke-width="0.2">0</text>
<text x="494.4" y="98.5" font-size="4.8" font-weight="bold" text-anchor="middle" fill="#1a1a1a" stroke="#1a1a1a" stroke-width="0.2">30sec</text>
<rect x="424.4" y="5.2" width="43.7" height="27.6" fill="#fff" stroke="#333" stroke-width="1"/>
<rect x="427.1" y="8.9" width="7.7" height="3" fill="#111"/>
<text x="438.6" y="12" font-size="4.6" font-weight="normal" text-anchor="start" fill="#1a1a1a">CTL</text>
<rect x="427.1" y="14.7" width="7.7" height="3" fill="#9c9c9c"/>
<text x="438.6" y="17.8" font-size="4.6" font-weight="normal" text-anchor="start" fill="#1a1a1a">Adr+DMSO</text>
<rect x="427.1" y="20.4" width="7.7" height="3" fill="#6e6e6e"/>
<text x="438.6" y="23.5" font-size="4.6" font-weight="normal" text-anchor="start" fill="#1a1a1a">Adr+Rap</text>
<rect x="427.1" y="26.4" width="7.7" height="3" fill="#d8d8d8"/>
<text x="438.6" y="29.5" font-size="4.6" font-weight="normal" text-anchor="start" fill="#1a1a1a">Adr+Ku</text>
<text x="130.2" y="128" font-size="8.2" font-weight="bold" text-anchor="start" fill="#1a1a1a">F</text>
<text x="138.1" y="190" font-size="5.2" font-weight="bold" text-anchor="middle" fill="#1a1a1a" transform="rotate(-90 138.1 190)" stroke="#1a1a1a" stroke-width="0.18">Relative fluorescence intensity</text>
<text x="144.1" y="190" font-size="5.2" font-weight="bold" text-anchor="middle" fill="#1a1a1a" transform="rotate(-90 144.1 190)" stroke="#1a1a1a" stroke-width="0.18">(cytosolic free calcium)</text>
<line x1="152.7" y1="158.8" x2="152.7" y2="222.8" stroke="#111" stroke-width="1"/>
<line x1="151.4" y1="222.3" x2="152.7" y2="222.3" stroke="#1a1a1a" stroke-width="0.8"/>
<text x="148.9" y="224.3" font-size="4.5" font-weight="bold" text-anchor="middle" fill="#1a1a1a" stroke="#1a1a1a" stroke-width="0.15">0</text>
<line x1="151.4" y1="206.43" x2="152.7" y2="206.43" stroke="#1a1a1a" stroke-width="0.8"/>
<text x="148.9" y="208.43" font-size="4.5" font-weight="bold" text-anchor="middle" fill="#1a1a1a" stroke="#1a1a1a" stroke-width="0.15">1</text>
<line x1="151.4" y1="190.55" x2="152.7" y2="190.55" stroke="#1a1a1a" stroke-width="0.8"/>
<text x="148.9" y="192.55" font-size="4.5" font-weight="bold" text-anchor="middle" fill="#1a1a1a" stroke="#1a1a1a" stroke-width="0.15">2</text>
<line x1="151.4" y1="174.68" x2="152.7" y2="174.68" stroke="#1a1a1a" stroke-width="0.8"/>
<text x="148.9" y="176.68" font-size="4.5" font-weight="bold" text-anchor="middle" fill="#1a1a1a" stroke="#1a1a1a" stroke-width="0.15">3</text>
<line x1="151.4" y1="158.8" x2="152.7" y2="158.8" stroke="#1a1a1a" stroke-width="0.8"/>
<text x="148.9" y="160.8" font-size="4.5" font-weight="bold" text-anchor="middle" fill="#1a1a1a" stroke="#1a1a1a" stroke-width="0.15">4</text>
<line x1="152.2" y1="222.3" x2="248.2" y2="222.3" stroke="#111" stroke-width="1"/>
<line x1="176.1" y1="222.3" x2="176.1" y2="223.6" stroke="#1a1a1a" stroke-width="0.8"/>
<line x1="224.2" y1="222.3" x2="224.2" y2="223.6" stroke="#1a1a1a" stroke-width="0.8"/>
<rect x="156" y="206.8" width="8.9" height="15.5" fill="#111" stroke="#000" stroke-width="0.5"/>
<line x1="171.45" y1="207.1" x2="171.45" y2="206.3" stroke="#555" stroke-width="0.8"/>
<line x1="169.05" y1="206.3" x2="173.85" y2="206.3" stroke="#1a1a1a" stroke-width="1"/>
<rect x="167.1" y="207.1" width="8.7" height="15.2" fill="#9c9c9c" stroke="#8a8a8a" stroke-width="0.5"/>
<line x1="182.45" y1="205.6" x2="182.45" y2="204.8" stroke="#555" stroke-width="0.8"/>
<line x1="180.05" y1="204.8" x2="184.85" y2="204.8" stroke="#1a1a1a" stroke-width="1"/>
<rect x="177.9" y="205.6" width="9.1" height="16.7" fill="#6e6e6e" stroke="#5a5a5a" stroke-width="0.5"/>
<line x1="193.5" y1="209.7" x2="193.5" y2="208.8" stroke="#555" stroke-width="0.8"/>
<line x1="191.1" y1="208.8" x2="195.9" y2="208.8" stroke="#1a1a1a" stroke-width="1"/>
<rect x="188.9" y="209.7" width="9.2" height="12.6" fill="#d8d8d8" stroke="#bdbdbd" stroke-width="0.5"/>
<line x1="208.1" y1="174.7" x2="208.1" y2="168.2" stroke="#555" stroke-width="0.8"/>
<line x1="205.7" y1="168.2" x2="210.5" y2="168.2" stroke="#1a1a1a" stroke-width="1"/>
<rect x="203.3" y="174.7" width="9.6" height="47.6" fill="#111" stroke="#000" stroke-width="0.5"/>
<line x1="219" y1="173.6" x2="219" y2="166" stroke="#555" stroke-width="0.8"/>
<line x1="216.6" y1="166" x2="221.4" y2="166" stroke="#1a1a1a" stroke-width="1"/>
<rect x="214.2" y="173.6" width="9.6" height="48.7" fill="#9c9c9c" stroke="#8a8a8a" stroke-width="0.5"/>
<line x1="230" y1="177.2" x2="230" y2="168.2" stroke="#555" stroke-width="0.8"/>
<line x1="227.6" y1="168.2" x2="232.4" y2="168.2" stroke="#1a1a1a" stroke-width="1"/>
<rect x="225.3" y="177.2" width="9.4" height="45.1" fill="#6e6e6e" stroke="#5a5a5a" stroke-width="0.5"/>
<line x1="240.95" y1="197.1" x2="240.95" y2="195.2" stroke="#555" stroke-width="0.8"/>
<line x1="238.55" y1="195.2" x2="243.35" y2="195.2" stroke="#1a1a1a" stroke-width="1"/>
<rect x="236.6" y="197.1" width="8.7" height="25.2" fill="#d8d8d8" stroke="#bdbdbd" stroke-width="0.5"/>
<path d="M156.3 202.3V202.3H196.2V202.3" fill="none" stroke="#1a1a1a" stroke-width="0.75"/>
<text x="176.1" y="200.2" font-size="4.8" font-weight="normal" text-anchor="middle" fill="#1a1a1a">n.s</text>
<path d="M207.2 154.2V152.3H240.4V154.2" fill="none" stroke="#1a1a1a" stroke-width="0.75"/>
<text x="224.3" y="153.1" font-size="7.5" font-weight="bold" text-anchor="middle" fill="#1a1a1a">***</text>
<path d="M203.8 162V162H231.9V162" fill="none" stroke="#1a1a1a" stroke-width="0.75"/>
<text x="217.3" y="159.6" font-size="4.8" font-weight="normal" text-anchor="middle" fill="#1a1a1a">n.s</text>
<text x="176.3" y="229.5" font-size="4.8" font-weight="bold" text-anchor="middle" fill="#1a1a1a" stroke="#1a1a1a" stroke-width="0.2">0</text>
<text x="223.9" y="229.5" font-size="4.8" font-weight="bold" text-anchor="middle" fill="#1a1a1a" stroke="#1a1a1a" stroke-width="0.2">30sec</text>
<rect x="155.5" y="135.1" width="38.2" height="28.9" fill="#fff" stroke="#333" stroke-width="1"/>
<rect x="157.1" y="138.7" width="7.6" height="3" fill="#111"/>
<text x="168" y="141.8" font-size="4.6" font-weight="normal" text-anchor="start" fill="#1a1a1a">CTL</text>
<rect x="157.1" y="144.5" width="7.6" height="3" fill="#9c9c9c"/>
<text x="168" y="147.6" font-size="4.6" font-weight="normal" text-anchor="start" fill="#1a1a1a">siCTL</text>
<rect x="157.1" y="150.3" width="7.6" height="3" fill="#6e6e6e"/>
<text x="168" y="153.4" font-size="4.6" font-weight="normal" text-anchor="start" fill="#1a1a1a">siRaptor</text>
<rect x="157.1" y="156.2" width="7.6" height="3" fill="#d8d8d8"/>
<text x="168" y="159.3" font-size="4.6" font-weight="normal" text-anchor="start" fill="#1a1a1a">siRictor</text>
<text x="395.2" y="128" font-size="8.2" font-weight="bold" text-anchor="start" fill="#1a1a1a">H</text>
<text x="406.6" y="188.7" font-size="5.2" font-weight="bold" text-anchor="middle" fill="#1a1a1a" transform="rotate(-90 406.6 188.7)" stroke="#1a1a1a" stroke-width="0.18">Relative fluorescence intensity</text>
<text x="412.6" y="188.7" font-size="5.2" font-weight="bold" text-anchor="middle" fill="#1a1a1a" transform="rotate(-90 412.6 188.7)" stroke="#1a1a1a" stroke-width="0.18">(cytosolic free calcium)</text>
<line x1="421.2" y1="156" x2="421.2" y2="222.8" stroke="#111" stroke-width="1"/>
<line x1="419.9" y1="222.3" x2="421.2" y2="222.3" stroke="#1a1a1a" stroke-width="0.8"/>
<text x="417.4" y="224.3" font-size="4.5" font-weight="bold" text-anchor="middle" fill="#1a1a1a" stroke="#1a1a1a" stroke-width="0.15">0</text>
<line x1="419.9" y1="212.83" x2="421.2" y2="212.83" stroke="#1a1a1a" stroke-width="0.8"/>
<text x="417.4" y="214.83" font-size="4.5" font-weight="bold" text-anchor="middle" fill="#1a1a1a" stroke="#1a1a1a" stroke-width="0.15">1</text>
<line x1="419.9" y1="203.36" x2="421.2" y2="203.36" stroke="#1a1a1a" stroke-width="0.8"/>
<text x="417.4" y="205.36" font-size="4.5" font-weight="bold" text-anchor="middle" fill="#1a1a1a" stroke="#1a1a1a" stroke-width="0.15">2</text>
<line x1="419.9" y1="193.89" x2="421.2" y2="193.89" stroke="#1a1a1a" stroke-width="0.8"/>
<text x="417.4" y="195.89" font-size="4.5" font-weight="bold" text-anchor="middle" fill="#1a1a1a" stroke="#1a1a1a" stroke-width="0.15">3</text>
<line x1="419.9" y1="184.41" x2="421.2" y2="184.41" stroke="#1a1a1a" stroke-width="0.8"/>
<text x="417.4" y="186.41" font-size="4.5" font-weight="bold" text-anchor="middle" fill="#1a1a1a" stroke="#1a1a1a" stroke-width="0.15">4</text>
<line x1="419.9" y1="174.94" x2="421.2" y2="174.94" stroke="#1a1a1a" stroke-width="0.8"/>
<text x="417.4" y="176.94" font-size="4.5" font-weight="bold" text-anchor="middle" fill="#1a1a1a" stroke="#1a1a1a" stroke-width="0.15">5</text>
<line x1="419.9" y1="165.47" x2="421.2" y2="165.47" stroke="#1a1a1a" stroke-width="0.8"/>
<text x="417.4" y="167.47" font-size="4.5" font-weight="bold" text-anchor="middle" fill="#1a1a1a" stroke="#1a1a1a" stroke-width="0.15">6</text>
<line x1="419.9" y1="156" x2="421.2" y2="156" stroke="#1a1a1a" stroke-width="0.8"/>
<text x="417.4" y="158" font-size="4.5" font-weight="bold" text-anchor="middle" fill="#1a1a1a" stroke="#1a1a1a" stroke-width="0.15">7</text>
<line x1="420.7" y1="222.3" x2="520" y2="222.3" stroke="#111" stroke-width="1"/>
<line x1="445.5" y1="222.3" x2="445.5" y2="223.6" stroke="#1a1a1a" stroke-width="0.8"/>
<line x1="495.5" y1="222.3" x2="495.5" y2="223.6" stroke="#1a1a1a" stroke-width="0.8"/>
<rect x="424.4" y="212.7" width="9.3" height="9.6" fill="#111" stroke="#000" stroke-width="0.5"/>
<line x1="440.7" y1="207.3" x2="440.7" y2="205.6" stroke="#555" stroke-width="0.8"/>
<line x1="438.3" y1="205.6" x2="443.1" y2="205.6" stroke="#1a1a1a" stroke-width="1"/>
<rect x="436.2" y="207.3" width="9" height="15" fill="#9c9c9c" stroke="#8a8a8a" stroke-width="0.5"/>
<line x1="451.6" y1="207.6" x2="451.6" y2="206.5" stroke="#555" stroke-width="0.8"/>
<line x1="449.2" y1="206.5" x2="454" y2="206.5" stroke="#1a1a1a" stroke-width="1"/>
<rect x="447.1" y="207.6" width="9" height="14.7" fill="#6e6e6e" stroke="#5a5a5a" stroke-width="0.5"/>
<line x1="462.95" y1="212" x2="462.95" y2="211.1" stroke="#555" stroke-width="0.8"/>
<line x1="460.55" y1="211.1" x2="465.35" y2="211.1" stroke="#1a1a1a" stroke-width="1"/>
<rect x="458.3" y="212" width="9.3" height="10.3" fill="#d8d8d8" stroke="#bdbdbd" stroke-width="0.5"/>
<line x1="478.9" y1="195" x2="478.9" y2="192.5" stroke="#555" stroke-width="0.8"/>
<line x1="476.5" y1="192.5" x2="481.3" y2="192.5" stroke="#1a1a1a" stroke-width="1"/>
<rect x="474.1" y="195" width="9.6" height="27.3" fill="#111" stroke="#000" stroke-width="0.5"/>
<line x1="489.9" y1="169.8" x2="489.9" y2="167.6" stroke="#555" stroke-width="0.8"/>
<line x1="487.5" y1="167.6" x2="492.3" y2="167.6" stroke="#1a1a1a" stroke-width="1"/>
<rect x="485.2" y="169.8" width="9.4" height="52.5" fill="#9c9c9c" stroke="#8a8a8a" stroke-width="0.5"/>
<line x1="501.3" y1="167.8" x2="501.3" y2="166.1" stroke="#555" stroke-width="0.8"/>
<line x1="498.9" y1="166.1" x2="503.7" y2="166.1" stroke="#1a1a1a" stroke-width="1"/>
<rect x="496.5" y="167.8" width="9.6" height="54.5" fill="#6e6e6e" stroke="#5a5a5a" stroke-width="0.5"/>
<line x1="512.4" y1="188.9" x2="512.4" y2="188" stroke="#555" stroke-width="0.8"/>
<line x1="510" y1="188" x2="514.8" y2="188" stroke="#1a1a1a" stroke-width="1"/>
<rect x="507.6" y="188.9" width="9.6" height="33.4" fill="#d8d8d8" stroke="#bdbdbd" stroke-width="0.5"/>
<path d="M427.9 186.8V185.1H462.6V186.8" fill="none" stroke="#1a1a1a" stroke-width="0.75"/>
<text x="445.7" y="182.9" font-size="4.8" font-weight="normal" text-anchor="middle" fill="#1a1a1a">n.s</text>
<path d="M427.9 195.2V193.6H451.7V195.2" fill="none" stroke="#1a1a1a" stroke-width="0.75"/>
<text x="440.2" y="194.4" font-size="7.5" font-weight="bold" text-anchor="middle" fill="#1a1a1a">*</text>
<path d="M427.4 202.3V200.7H462.6V202.3M440.8 200.7V202.3" fill="none" stroke="#1a1a1a" stroke-width="0.75"/>
<text x="434.8" y="201.9" font-size="7.5" font-weight="bold" text-anchor="middle" fill="#1a1a1a">**</text>
<text x="451.7" y="202.4" font-size="7.5" font-weight="bold" text-anchor="middle" fill="#1a1a1a">*</text>
<path d="M478.4 149.8V147.6H514.8V149.8M488.2 147.6V149.8M501 147.6V149.8" fill="none" stroke="#1a1a1a" stroke-width="0.75"/>
<text x="496.1" y="148.9" font-size="7.5" font-weight="bold" text-anchor="middle" fill="#1a1a1a">**</text>
<path d="M489.9 158.5V156.9H514.8V158.5" fill="none" stroke="#1a1a1a" stroke-width="0.75"/>
<text x="501.7" y="158.4" font-size="7.5" font-weight="bold" text-anchor="middle" fill="#1a1a1a">***</text>
<path d="M484.4 164.5V164.5H505.7V164.5" fill="none" stroke="#1a1a1a" stroke-width="0.75"/>
<text x="495.3" y="162.5" font-size="4.8" font-weight="normal" text-anchor="middle" fill="#1a1a1a">n.s</text>
<text x="445.6" y="229.5" font-size="4.8" font-weight="bold" text-anchor="middle" fill="#1a1a1a" stroke="#1a1a1a" stroke-width="0.2">0</text>
<text x="495.6" y="229.5" font-size="4.8" font-weight="bold" text-anchor="middle" fill="#1a1a1a" stroke="#1a1a1a" stroke-width="0.2">30sec</text>
<rect x="424.4" y="134.9" width="44.3" height="30.6" fill="#fff" stroke="#333" stroke-width="1"/>
<rect x="426" y="138.9" width="7.7" height="3" fill="#111"/>
<text x="437.5" y="142" font-size="4.6" font-weight="normal" text-anchor="start" fill="#1a1a1a">CTL</text>
<rect x="426" y="145.2" width="7.7" height="3" fill="#9c9c9c"/>
<text x="437.5" y="148.3" font-size="4.6" font-weight="normal" text-anchor="start" fill="#1a1a1a">Adr+siCTL</text>
<rect x="426" y="150.9" width="7.7" height="3" fill="#6e6e6e"/>
<text x="437.5" y="154" font-size="4.6" font-weight="normal" text-anchor="start" fill="#1a1a1a">Adr+siRaptor</text>
<rect x="426" y="157.5" width="7.7" height="3" fill="#d8d8d8"/>
<text x="437.5" y="160.6" font-size="4.6" font-weight="normal" text-anchor="start" fill="#1a1a1a">Adr+siRictor</text>
<text x="127.5" y="260.8" font-size="8.2" font-weight="bold" text-anchor="start" fill="#1a1a1a">J</text>
<text x="138.3" y="309.4" font-size="5.2" font-weight="bold" text-anchor="middle" fill="#1a1a1a" transform="rotate(-90 138.3 309.4)" stroke="#1a1a1a" stroke-width="0.18">Relative fluorescence intensity</text>
<text x="144.3" y="309.4" font-size="5.2" font-weight="bold" text-anchor="middle" fill="#1a1a1a" transform="rotate(-90 144.3 309.4)" stroke="#1a1a1a" stroke-width="0.18">(cytosolic free calcium)</text>
<line x1="152.9" y1="279.2" x2="152.9" y2="343" stroke="#111" stroke-width="1"/>
<line x1="151.6" y1="342.5" x2="152.9" y2="342.5" stroke="#1a1a1a" stroke-width="0.8"/>
<text x="149.1" y="344.5" font-size="4.5" font-weight="bold" text-anchor="middle" fill="#1a1a1a" stroke="#1a1a1a" stroke-width="0.15">0</text>
<line x1="151.6" y1="326.68" x2="152.9" y2="326.68" stroke="#1a1a1a" stroke-width="0.8"/>
<text x="149.1" y="328.68" font-size="4.5" font-weight="bold" text-anchor="middle" fill="#1a1a1a" stroke="#1a1a1a" stroke-width="0.15">1</text>
<line x1="151.6" y1="310.85" x2="152.9" y2="310.85" stroke="#1a1a1a" stroke-width="0.8"/>
<text x="149.1" y="312.85" font-size="4.5" font-weight="bold" text-anchor="middle" fill="#1a1a1a" stroke="#1a1a1a" stroke-width="0.15">2</text>
<line x1="151.6" y1="295.02" x2="152.9" y2="295.02" stroke="#1a1a1a" stroke-width="0.8"/>
<text x="149.1" y="297.02" font-size="4.5" font-weight="bold" text-anchor="middle" fill="#1a1a1a" stroke="#1a1a1a" stroke-width="0.15">3</text>
<line x1="151.6" y1="279.2" x2="152.9" y2="279.2" stroke="#1a1a1a" stroke-width="0.8"/>
<text x="149.1" y="281.2" font-size="4.5" font-weight="bold" text-anchor="middle" fill="#1a1a1a" stroke="#1a1a1a" stroke-width="0.15">4</text>
<line x1="152.4" y1="342.5" x2="248.5" y2="342.5" stroke="#111" stroke-width="1"/>
<line x1="176.5" y1="342.5" x2="176.5" y2="343.8" stroke="#1a1a1a" stroke-width="0.8"/>
<line x1="224.2" y1="342.5" x2="224.2" y2="343.8" stroke="#1a1a1a" stroke-width="0.8"/>
<rect x="158.9" y="327" width="16.4" height="15.5" fill="#111" stroke="#000" stroke-width="0.5"/>
<line x1="186.75" y1="325.2" x2="186.75" y2="324" stroke="#555" stroke-width="0.8"/>
<line x1="184.35" y1="324" x2="189.15" y2="324" stroke="#1a1a1a" stroke-width="1"/>
<rect x="178.6" y="325.2" width="16.3" height="17.3" fill="#6e6e6e" stroke="#5a5a5a" stroke-width="0.5"/>
<line x1="214.55" y1="287.7" x2="214.55" y2="284.2" stroke="#555" stroke-width="0.8"/>
<line x1="212.15" y1="284.2" x2="216.95" y2="284.2" stroke="#1a1a1a" stroke-width="1"/>
<rect x="206.4" y="287.7" width="16.3" height="54.8" fill="#111" stroke="#000" stroke-width="0.5"/>
<line x1="234.4" y1="297.2" x2="234.4" y2="292.3" stroke="#555" stroke-width="0.8"/>
<line x1="232" y1="292.3" x2="236.8" y2="292.3" stroke="#1a1a1a" stroke-width="1"/>
<rect x="226.4" y="297.2" width="16" height="45.3" fill="#6e6e6e" stroke="#5a5a5a" stroke-width="0.5"/>
<path d="M159.3 321.5V321.5H194.1V321.5" fill="none" stroke="#1a1a1a" stroke-width="0.75"/>
<text x="175.3" y="318.2" font-size="4.8" font-weight="normal" text-anchor="middle" fill="#1a1a1a">n.s</text>
<path d="M213.5 282.1V279.9H235V282.1" fill="none" stroke="#1a1a1a" stroke-width="0.75"/>
<text x="225.5" y="280.8" font-size="7.5" font-weight="bold" text-anchor="middle" fill="#1a1a1a">**</text>
<text x="176.7" y="349.8" font-size="4.8" font-weight="bold" text-anchor="middle" fill="#1a1a1a" stroke="#1a1a1a" stroke-width="0.2">0</text>
<text x="224" y="349.8" font-size="4.8" font-weight="bold" text-anchor="middle" fill="#1a1a1a" stroke="#1a1a1a" stroke-width="0.2">30sec</text>
<rect x="156" y="269.3" width="45.9" height="22.4" fill="#fff" stroke="#333" stroke-width="1"/>
<rect x="157.7" y="272.7" width="7.1" height="3" fill="#111"/>
<text x="168.6" y="275.8" font-size="4.6" font-weight="normal" text-anchor="start" fill="#1a1a1a">CTL</text>
<rect x="157.7" y="284.5" width="7.1" height="3" fill="#6e6e6e"/>
<text x="168.6" y="287.6" font-size="4.6" font-weight="normal" text-anchor="start" fill="#1a1a1a">PDTC</text>
<text x="390.2" y="260.8" font-size="8.2" font-weight="bold" text-anchor="start" fill="#1a1a1a">L</text>
<text x="406.6" y="310.4" font-size="5.2" font-weight="bold" text-anchor="middle" fill="#1a1a1a" transform="rotate(-90 406.6 310.4)" stroke="#1a1a1a" stroke-width="0.18">Relative fluorescence intensity</text>
<text x="412.6" y="310.4" font-size="5.2" font-weight="bold" text-anchor="middle" fill="#1a1a1a" transform="rotate(-90 412.6 310.4)" stroke="#1a1a1a" stroke-width="0.18">(cytosolic free calcium)</text>
<line x1="421.2" y1="277.8" x2="421.2" y2="344.1" stroke="#111" stroke-width="1"/>
<line x1="419.9" y1="343.6" x2="421.2" y2="343.6" stroke="#1a1a1a" stroke-width="0.8"/>
<text x="417.4" y="345.6" font-size="4.5" font-weight="bold" text-anchor="middle" fill="#1a1a1a" stroke="#1a1a1a" stroke-width="0.15">0</text>
<line x1="419.9" y1="334.2" x2="421.2" y2="334.2" stroke="#1a1a1a" stroke-width="0.8"/>
<text x="417.4" y="336.2" font-size="4.5" font-weight="bold" text-anchor="middle" fill="#1a1a1a" stroke="#1a1a1a" stroke-width="0.15">1</text>
<line x1="419.9" y1="324.8" x2="421.2" y2="324.8" stroke="#1a1a1a" stroke-width="0.8"/>
<text x="417.4" y="326.8" font-size="4.5" font-weight="bold" text-anchor="middle" fill="#1a1a1a" stroke="#1a1a1a" stroke-width="0.15">2</text>
<line x1="419.9" y1="315.4" x2="421.2" y2="315.4" stroke="#1a1a1a" stroke-width="0.8"/>
<text x="417.4" y="317.4" font-size="4.5" font-weight="bold" text-anchor="middle" fill="#1a1a1a" stroke="#1a1a1a" stroke-width="0.15">3</text>
<line x1="419.9" y1="306" x2="421.2" y2="306" stroke="#1a1a1a" stroke-width="0.8"/>
<text x="417.4" y="308" font-size="4.5" font-weight="bold" text-anchor="middle" fill="#1a1a1a" stroke="#1a1a1a" stroke-width="0.15">4</text>
<line x1="419.9" y1="296.6" x2="421.2" y2="296.6" stroke="#1a1a1a" stroke-width="0.8"/>
<text x="417.4" y="298.6" font-size="4.5" font-weight="bold" text-anchor="middle" fill="#1a1a1a" stroke="#1a1a1a" stroke-width="0.15">5</text>
<line x1="419.9" y1="287.2" x2="421.2" y2="287.2" stroke="#1a1a1a" stroke-width="0.8"/>
<text x="417.4" y="289.2" font-size="4.5" font-weight="bold" text-anchor="middle" fill="#1a1a1a" stroke="#1a1a1a" stroke-width="0.15">6</text>
<line x1="419.9" y1="277.8" x2="421.2" y2="277.8" stroke="#1a1a1a" stroke-width="0.8"/>
<text x="417.4" y="279.8" font-size="4.5" font-weight="bold" text-anchor="middle" fill="#1a1a1a" stroke="#1a1a1a" stroke-width="0.15">7</text>
<line x1="420.7" y1="343.6" x2="520" y2="343.6" stroke="#111" stroke-width="1"/>
<line x1="445.4" y1="343.6" x2="445.4" y2="344.9" stroke="#1a1a1a" stroke-width="0.8"/>
<line x1="495.1" y1="343.6" x2="495.1" y2="344.9" stroke="#1a1a1a" stroke-width="0.8"/>
<rect x="425.2" y="334.6" width="11.8" height="9" fill="#111" stroke="#000" stroke-width="0.5"/>
<line x1="446" y1="328" x2="446" y2="324.3" stroke="#555" stroke-width="0.8"/>
<line x1="443.6" y1="324.3" x2="448.4" y2="324.3" stroke="#1a1a1a" stroke-width="1"/>
<rect x="440.3" y="328" width="11.4" height="15.6" fill="#9c9c9c" stroke="#8a8a8a" stroke-width="0.5"/>
<line x1="460.55" y1="331" x2="460.55" y2="329.2" stroke="#555" stroke-width="0.8"/>
<line x1="458.15" y1="329.2" x2="462.95" y2="329.2" stroke="#1a1a1a" stroke-width="1"/>
<rect x="454.4" y="331" width="12.3" height="12.6" fill="#6e6e6e" stroke="#5a5a5a" stroke-width="0.5"/>
<line x1="480.95" y1="313.1" x2="480.95" y2="311.4" stroke="#555" stroke-width="0.8"/>
<line x1="478.55" y1="311.4" x2="483.35" y2="311.4" stroke="#1a1a1a" stroke-width="1"/>
<rect x="474.8" y="313.1" width="12.3" height="30.5" fill="#111" stroke="#000" stroke-width="0.5"/>
<line x1="495.1" y1="294.6" x2="495.1" y2="293.3" stroke="#555" stroke-width="0.8"/>
<line x1="492.7" y1="293.3" x2="497.5" y2="293.3" stroke="#1a1a1a" stroke-width="1"/>
<rect x="489.1" y="294.6" width="12" height="49" fill="#9c9c9c" stroke="#8a8a8a" stroke-width="0.5"/>
<line x1="509.85" y1="308.3" x2="509.85" y2="307.3" stroke="#555" stroke-width="0.8"/>
<line x1="507.45" y1="307.3" x2="512.25" y2="307.3" stroke="#1a1a1a" stroke-width="1"/>
<rect x="503.9" y="308.3" width="11.9" height="35.3" fill="#6e6e6e" stroke="#5a5a5a" stroke-width="0.5"/>
<path d="M429.8 314.5V312.3H459.6V314.5" fill="none" stroke="#1a1a1a" stroke-width="0.75"/>
<text x="444.5" y="310" font-size="4.8" font-weight="normal" text-anchor="middle" fill="#1a1a1a">n.s</text>
<path d="M429.8 321.9V319.7H445.2V321.9" fill="none" stroke="#1a1a1a" stroke-width="0.75"/>
<text x="439.7" y="320.8" font-size="7.5" font-weight="bold" text-anchor="middle" fill="#1a1a1a">**</text>
<path d="M480.7 282.8V281H510.7V282.8" fill="none" stroke="#1a1a1a" stroke-width="0.75"/>
<text x="495.3" y="278.5" font-size="4.8" font-weight="normal" text-anchor="middle" fill="#1a1a1a">n.s</text>
<path d="M479.8 290.6V288.8H510.7V290.6M495.3 288.8V290.6" fill="none" stroke="#1a1a1a" stroke-width="0.75"/>
<text x="488.1" y="289.5" font-size="7.5" font-weight="bold" text-anchor="middle" fill="#1a1a1a">***</text>
<text x="503.4" y="289.5" font-size="7.5" font-weight="bold" text-anchor="middle" fill="#1a1a1a">**</text>
<text x="445.4" y="350.9" font-size="4.8" font-weight="bold" text-anchor="middle" fill="#1a1a1a" stroke="#1a1a1a" stroke-width="0.2">0</text>
<text x="495.4" y="350.9" font-size="4.8" font-weight="bold" text-anchor="middle" fill="#1a1a1a" stroke="#1a1a1a" stroke-width="0.2">30</text>
<rect x="424.4" y="267.4" width="44.3" height="23.8" fill="#fff" stroke="#333" stroke-width="1"/>
<rect x="426" y="271.8" width="7.7" height="3" fill="#111"/>
<text x="437.5" y="274.9" font-size="4.6" font-weight="normal" text-anchor="start" fill="#1a1a1a">CTL</text>
<rect x="426" y="278.2" width="7.7" height="3" fill="#9c9c9c"/>
<text x="437.5" y="281.3" font-size="4.6" font-weight="normal" text-anchor="start" fill="#1a1a1a">Adr+DMSO</text>
<rect x="426" y="283.9" width="7.7" height="3" fill="#6e6e6e"/>
<text x="437.5" y="287" font-size="4.6" font-weight="normal" text-anchor="start" fill="#1a1a1a">Adr+PDTC</text>
</g>
</svg>
</body></html>
